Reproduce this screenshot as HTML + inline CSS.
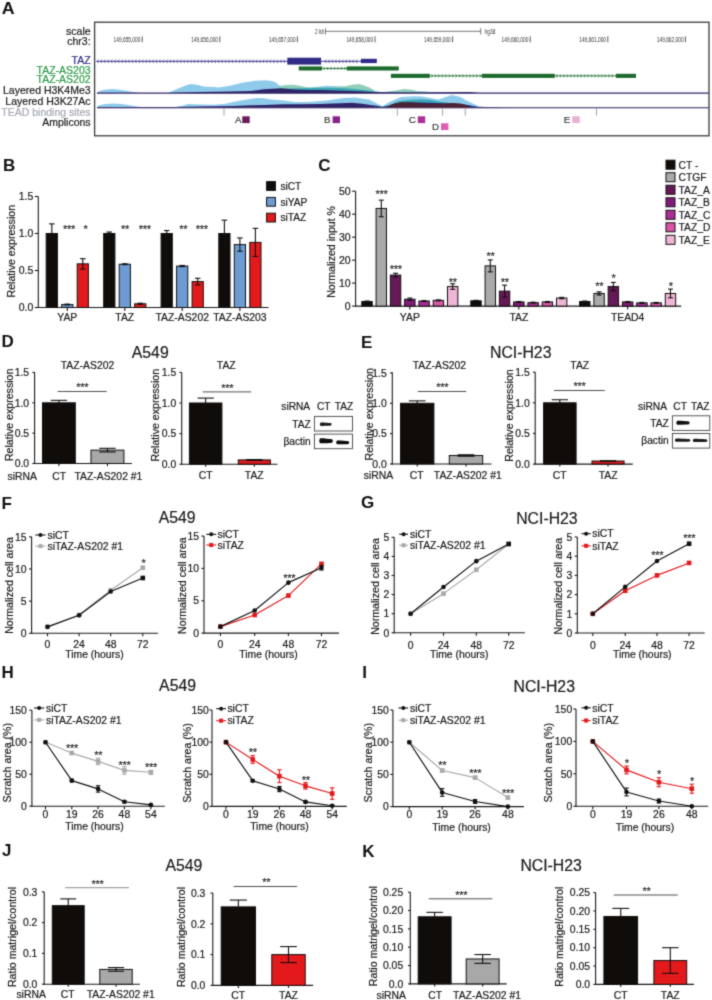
<!DOCTYPE html>
<html><head><meta charset="utf-8"><style>
html,body{margin:0;padding:0;background:#fff;}
svg{display:block;}
text{font-family:"Liberation Sans", sans-serif;}
</style></head><body>
<svg width="712" height="1000" viewBox="0 0 712 1000">
<defs><filter id="bl" x="-20%" y="-50%" width="140%" height="200%"><feGaussianBlur stdDeviation="0.45"/></filter>
<filter id="soft" x="0" y="0" width="712" height="1000" filterUnits="userSpaceOnUse" color-interpolation-filters="sRGB"><feConvolveMatrix order="3" kernelMatrix="1 3 1 3 16 3 1 3 1" edgeMode="duplicate" preserveAlpha="true"/></filter></defs>
<rect width="712" height="1000" fill="#fff"/>
<g filter="url(#soft)">
<rect width="712" height="1000" fill="#fff"/>
<text transform="translate(1.8,13.6) scale(1.05,1)" font-size="17" font-weight="bold" fill="#111">A</text>
<rect x="94.6" y="22.2" width="614.4" height="113.6" fill="none" stroke="#3a3a3a" stroke-width="1.3"/>
<text x="90.6" y="35.4" font-size="10.5" text-anchor="end" stroke="#1a1a1a" stroke-width="0.2" fill="#1a1a1a">scale</text>
<text x="90.6" y="45" font-size="10.5" text-anchor="end" stroke="#1a1a1a" stroke-width="0.2" fill="#1a1a1a">chr3:</text>
<text x="90.6" y="64.2" font-size="10.5" text-anchor="end" stroke="#2e2a85" stroke-width="0.2" fill="#2e2a85">TAZ</text>
<text x="90.6" y="73.6" font-size="10.5" text-anchor="end" stroke="#2b9a45" stroke-width="0.2" fill="#2b9a45">TAZ-AS203</text>
<text x="90.6" y="83.1" font-size="10.5" text-anchor="end" stroke="#2b9a45" stroke-width="0.2" fill="#2b9a45">TAZ-AS202</text>
<text x="90.6" y="94.2" font-size="10.5" text-anchor="end" stroke="#1a1a1a" stroke-width="0.2" fill="#1a1a1a">Layered H3K4Me3</text>
<text x="90.6" y="105.2" font-size="10.5" text-anchor="end" stroke="#1a1a1a" stroke-width="0.2" fill="#1a1a1a">Layered H3K27Ac</text>
<text x="90.6" y="116" font-size="10.5" text-anchor="end" stroke="#a4a8b2" stroke-width="0.2" fill="#a4a8b2">TEAD binding sites</text>
<text x="90.6" y="126.3" font-size="10.5" text-anchor="end" stroke="#1a1a1a" stroke-width="0.2" fill="#1a1a1a">Amplicons</text>
<line x1="142.2" y1="36.3" x2="142.2" y2="42.3" stroke="#333" stroke-width="0.8"/>
<text transform="translate(140.4,41.8) scale(0.7,1)" font-size="6.9" text-anchor="end" fill="#333">149,655,000</text>
<line x1="219.8" y1="36.3" x2="219.8" y2="42.3" stroke="#333" stroke-width="0.8"/>
<text transform="translate(218,41.8) scale(0.7,1)" font-size="6.9" text-anchor="end" fill="#333">149,656,000</text>
<line x1="297.4" y1="36.3" x2="297.4" y2="42.3" stroke="#333" stroke-width="0.8"/>
<text transform="translate(295.6,41.8) scale(0.7,1)" font-size="6.9" text-anchor="end" fill="#333">149,657,000</text>
<line x1="375" y1="36.3" x2="375" y2="42.3" stroke="#333" stroke-width="0.8"/>
<text transform="translate(373.2,41.8) scale(0.7,1)" font-size="6.9" text-anchor="end" fill="#333">149,658,000</text>
<line x1="452.6" y1="36.3" x2="452.6" y2="42.3" stroke="#333" stroke-width="0.8"/>
<text transform="translate(450.8,41.8) scale(0.7,1)" font-size="6.9" text-anchor="end" fill="#333">149,659,000</text>
<line x1="530.2" y1="36.3" x2="530.2" y2="42.3" stroke="#333" stroke-width="0.8"/>
<text transform="translate(528.4,41.8) scale(0.7,1)" font-size="6.9" text-anchor="end" fill="#333">149,660,000</text>
<line x1="607.8" y1="36.3" x2="607.8" y2="42.3" stroke="#333" stroke-width="0.8"/>
<text transform="translate(606,41.8) scale(0.7,1)" font-size="6.9" text-anchor="end" fill="#333">149,661,000</text>
<line x1="685.4" y1="36.3" x2="685.4" y2="42.3" stroke="#333" stroke-width="0.8"/>
<text transform="translate(683.6,41.8) scale(0.7,1)" font-size="6.9" text-anchor="end" fill="#333">149,662,000</text>
<line x1="325.5" y1="31.3" x2="480.7" y2="31.3" stroke="#555" stroke-width="0.8"/>
<line x1="325.5" y1="28.2" x2="325.5" y2="34.5" stroke="#555" stroke-width="0.8"/>
<line x1="480.7" y1="28.2" x2="480.7" y2="34.5" stroke="#555" stroke-width="0.8"/>
<text transform="translate(324.2,33.6) scale(0.7,1)" font-size="6.9" text-anchor="end" fill="#333">2 kb</text>
<text transform="translate(484.6,33.6) scale(0.7,1)" font-size="6.9" fill="#333">hg38</text>
<line x1="96.5" y1="61.3" x2="361" y2="61.3" stroke="#302b87" stroke-width="0.9"/>
<path d="M98.6,59.6 L97,61.3 L98.6,63.0" fill="none" stroke="#302b87" stroke-width="0.7"/>
<path d="M102.05,59.6 L100.45,61.3 L102.05,63.0" fill="none" stroke="#302b87" stroke-width="0.7"/>
<path d="M105.5,59.6 L103.9,61.3 L105.5,63.0" fill="none" stroke="#302b87" stroke-width="0.7"/>
<path d="M108.95,59.6 L107.35,61.3 L108.95,63.0" fill="none" stroke="#302b87" stroke-width="0.7"/>
<path d="M112.4,59.6 L110.8,61.3 L112.4,63.0" fill="none" stroke="#302b87" stroke-width="0.7"/>
<path d="M115.85,59.6 L114.25,61.3 L115.85,63.0" fill="none" stroke="#302b87" stroke-width="0.7"/>
<path d="M119.3,59.6 L117.7,61.3 L119.3,63.0" fill="none" stroke="#302b87" stroke-width="0.7"/>
<path d="M122.75,59.6 L121.15,61.3 L122.75,63.0" fill="none" stroke="#302b87" stroke-width="0.7"/>
<path d="M126.2,59.6 L124.6,61.3 L126.2,63.0" fill="none" stroke="#302b87" stroke-width="0.7"/>
<path d="M129.65,59.6 L128.05,61.3 L129.65,63.0" fill="none" stroke="#302b87" stroke-width="0.7"/>
<path d="M133.1,59.6 L131.5,61.3 L133.1,63.0" fill="none" stroke="#302b87" stroke-width="0.7"/>
<path d="M136.55,59.6 L134.95,61.3 L136.55,63.0" fill="none" stroke="#302b87" stroke-width="0.7"/>
<path d="M140,59.6 L138.4,61.3 L140,63.0" fill="none" stroke="#302b87" stroke-width="0.7"/>
<path d="M143.45,59.6 L141.85,61.3 L143.45,63.0" fill="none" stroke="#302b87" stroke-width="0.7"/>
<path d="M146.9,59.6 L145.3,61.3 L146.9,63.0" fill="none" stroke="#302b87" stroke-width="0.7"/>
<path d="M150.35,59.6 L148.75,61.3 L150.35,63.0" fill="none" stroke="#302b87" stroke-width="0.7"/>
<path d="M153.8,59.6 L152.2,61.3 L153.8,63.0" fill="none" stroke="#302b87" stroke-width="0.7"/>
<path d="M157.25,59.6 L155.65,61.3 L157.25,63.0" fill="none" stroke="#302b87" stroke-width="0.7"/>
<path d="M160.7,59.6 L159.1,61.3 L160.7,63.0" fill="none" stroke="#302b87" stroke-width="0.7"/>
<path d="M164.15,59.6 L162.55,61.3 L164.15,63.0" fill="none" stroke="#302b87" stroke-width="0.7"/>
<path d="M167.6,59.6 L166,61.3 L167.6,63.0" fill="none" stroke="#302b87" stroke-width="0.7"/>
<path d="M171.05,59.6 L169.45,61.3 L171.05,63.0" fill="none" stroke="#302b87" stroke-width="0.7"/>
<path d="M174.5,59.6 L172.9,61.3 L174.5,63.0" fill="none" stroke="#302b87" stroke-width="0.7"/>
<path d="M177.95,59.6 L176.35,61.3 L177.95,63.0" fill="none" stroke="#302b87" stroke-width="0.7"/>
<path d="M181.4,59.6 L179.8,61.3 L181.4,63.0" fill="none" stroke="#302b87" stroke-width="0.7"/>
<path d="M184.85,59.6 L183.25,61.3 L184.85,63.0" fill="none" stroke="#302b87" stroke-width="0.7"/>
<path d="M188.3,59.6 L186.7,61.3 L188.3,63.0" fill="none" stroke="#302b87" stroke-width="0.7"/>
<path d="M191.75,59.6 L190.15,61.3 L191.75,63.0" fill="none" stroke="#302b87" stroke-width="0.7"/>
<path d="M195.2,59.6 L193.6,61.3 L195.2,63.0" fill="none" stroke="#302b87" stroke-width="0.7"/>
<path d="M198.65,59.6 L197.05,61.3 L198.65,63.0" fill="none" stroke="#302b87" stroke-width="0.7"/>
<path d="M202.1,59.6 L200.5,61.3 L202.1,63.0" fill="none" stroke="#302b87" stroke-width="0.7"/>
<path d="M205.55,59.6 L203.95,61.3 L205.55,63.0" fill="none" stroke="#302b87" stroke-width="0.7"/>
<path d="M209,59.6 L207.4,61.3 L209,63.0" fill="none" stroke="#302b87" stroke-width="0.7"/>
<path d="M212.45,59.6 L210.85,61.3 L212.45,63.0" fill="none" stroke="#302b87" stroke-width="0.7"/>
<path d="M215.9,59.6 L214.3,61.3 L215.9,63.0" fill="none" stroke="#302b87" stroke-width="0.7"/>
<path d="M219.35,59.6 L217.75,61.3 L219.35,63.0" fill="none" stroke="#302b87" stroke-width="0.7"/>
<path d="M222.8,59.6 L221.2,61.3 L222.8,63.0" fill="none" stroke="#302b87" stroke-width="0.7"/>
<path d="M226.25,59.6 L224.65,61.3 L226.25,63.0" fill="none" stroke="#302b87" stroke-width="0.7"/>
<path d="M229.7,59.6 L228.1,61.3 L229.7,63.0" fill="none" stroke="#302b87" stroke-width="0.7"/>
<path d="M233.15,59.6 L231.55,61.3 L233.15,63.0" fill="none" stroke="#302b87" stroke-width="0.7"/>
<path d="M236.6,59.6 L235,61.3 L236.6,63.0" fill="none" stroke="#302b87" stroke-width="0.7"/>
<path d="M240.05,59.6 L238.45,61.3 L240.05,63.0" fill="none" stroke="#302b87" stroke-width="0.7"/>
<path d="M243.5,59.6 L241.9,61.3 L243.5,63.0" fill="none" stroke="#302b87" stroke-width="0.7"/>
<path d="M246.95,59.6 L245.35,61.3 L246.95,63.0" fill="none" stroke="#302b87" stroke-width="0.7"/>
<path d="M250.4,59.6 L248.8,61.3 L250.4,63.0" fill="none" stroke="#302b87" stroke-width="0.7"/>
<path d="M253.85,59.6 L252.25,61.3 L253.85,63.0" fill="none" stroke="#302b87" stroke-width="0.7"/>
<path d="M257.3,59.6 L255.7,61.3 L257.3,63.0" fill="none" stroke="#302b87" stroke-width="0.7"/>
<path d="M260.75,59.6 L259.15,61.3 L260.75,63.0" fill="none" stroke="#302b87" stroke-width="0.7"/>
<path d="M264.2,59.6 L262.6,61.3 L264.2,63.0" fill="none" stroke="#302b87" stroke-width="0.7"/>
<path d="M267.65,59.6 L266.05,61.3 L267.65,63.0" fill="none" stroke="#302b87" stroke-width="0.7"/>
<path d="M271.1,59.6 L269.5,61.3 L271.1,63.0" fill="none" stroke="#302b87" stroke-width="0.7"/>
<path d="M274.55,59.6 L272.95,61.3 L274.55,63.0" fill="none" stroke="#302b87" stroke-width="0.7"/>
<path d="M278,59.6 L276.4,61.3 L278,63.0" fill="none" stroke="#302b87" stroke-width="0.7"/>
<path d="M281.45,59.6 L279.85,61.3 L281.45,63.0" fill="none" stroke="#302b87" stroke-width="0.7"/>
<path d="M284.9,59.6 L283.3,61.3 L284.9,63.0" fill="none" stroke="#302b87" stroke-width="0.7"/>
<path d="M326.3,59.6 L324.7,61.3 L326.3,63.0" fill="none" stroke="#302b87" stroke-width="0.7"/>
<path d="M329.75,59.6 L328.15,61.3 L329.75,63.0" fill="none" stroke="#302b87" stroke-width="0.7"/>
<path d="M333.2,59.6 L331.6,61.3 L333.2,63.0" fill="none" stroke="#302b87" stroke-width="0.7"/>
<path d="M336.65,59.6 L335.05,61.3 L336.65,63.0" fill="none" stroke="#302b87" stroke-width="0.7"/>
<path d="M340.1,59.6 L338.5,61.3 L340.1,63.0" fill="none" stroke="#302b87" stroke-width="0.7"/>
<path d="M343.55,59.6 L341.95,61.3 L343.55,63.0" fill="none" stroke="#302b87" stroke-width="0.7"/>
<path d="M347,59.6 L345.4,61.3 L347,63.0" fill="none" stroke="#302b87" stroke-width="0.7"/>
<path d="M350.45,59.6 L348.85,61.3 L350.45,63.0" fill="none" stroke="#302b87" stroke-width="0.7"/>
<path d="M353.9,59.6 L352.3,61.3 L353.9,63.0" fill="none" stroke="#302b87" stroke-width="0.7"/>
<path d="M357.35,59.6 L355.75,61.3 L357.35,63.0" fill="none" stroke="#302b87" stroke-width="0.7"/>
<rect x="287.3" y="57.7" width="33.8" height="6.9" fill="#302b87"/>
<rect x="360.9" y="58.8" width="15.9" height="4.3" fill="#302b87"/>
<line x1="298.8" y1="68.45" x2="398.7" y2="68.45" stroke="#1c6a2d" stroke-width="0.9"/>
<path d="M323.5,66.95 L325.1,68.45 L323.5,69.95" fill="none" stroke="#1c6a2d" stroke-width="0.7"/>
<path d="M326.95,66.95 L328.55,68.45 L326.95,69.95" fill="none" stroke="#1c6a2d" stroke-width="0.7"/>
<path d="M330.4,66.95 L332,68.45 L330.4,69.95" fill="none" stroke="#1c6a2d" stroke-width="0.7"/>
<path d="M333.85,66.95 L335.45,68.45 L333.85,69.95" fill="none" stroke="#1c6a2d" stroke-width="0.7"/>
<path d="M337.3,66.95 L338.9,68.45 L337.3,69.95" fill="none" stroke="#1c6a2d" stroke-width="0.7"/>
<path d="M340.75,66.95 L342.35,68.45 L340.75,69.95" fill="none" stroke="#1c6a2d" stroke-width="0.7"/>
<path d="M344.2,66.95 L345.8,68.45 L344.2,69.95" fill="none" stroke="#1c6a2d" stroke-width="0.7"/>
<rect x="298.8" y="66.4" width="23.2" height="4.1" fill="#1c6a2d"/>
<rect x="346.7" y="66.4" width="52" height="4.1" fill="#1c6a2d"/>
<line x1="390.9" y1="75.85" x2="636" y2="75.85" stroke="#1c6a2d" stroke-width="0.9"/>
<path d="M431.3,74.35 L432.9,75.85 L431.3,77.35" fill="none" stroke="#1c6a2d" stroke-width="0.7"/>
<path d="M434.75,74.35 L436.35,75.85 L434.75,77.35" fill="none" stroke="#1c6a2d" stroke-width="0.7"/>
<path d="M438.2,74.35 L439.8,75.85 L438.2,77.35" fill="none" stroke="#1c6a2d" stroke-width="0.7"/>
<path d="M441.65,74.35 L443.25,75.85 L441.65,77.35" fill="none" stroke="#1c6a2d" stroke-width="0.7"/>
<path d="M445.1,74.35 L446.7,75.85 L445.1,77.35" fill="none" stroke="#1c6a2d" stroke-width="0.7"/>
<path d="M448.55,74.35 L450.15,75.85 L448.55,77.35" fill="none" stroke="#1c6a2d" stroke-width="0.7"/>
<path d="M452,74.35 L453.6,75.85 L452,77.35" fill="none" stroke="#1c6a2d" stroke-width="0.7"/>
<path d="M455.45,74.35 L457.05,75.85 L455.45,77.35" fill="none" stroke="#1c6a2d" stroke-width="0.7"/>
<path d="M458.9,74.35 L460.5,75.85 L458.9,77.35" fill="none" stroke="#1c6a2d" stroke-width="0.7"/>
<path d="M462.35,74.35 L463.95,75.85 L462.35,77.35" fill="none" stroke="#1c6a2d" stroke-width="0.7"/>
<path d="M465.8,74.35 L467.4,75.85 L465.8,77.35" fill="none" stroke="#1c6a2d" stroke-width="0.7"/>
<path d="M469.25,74.35 L470.85,75.85 L469.25,77.35" fill="none" stroke="#1c6a2d" stroke-width="0.7"/>
<path d="M472.7,74.35 L474.3,75.85 L472.7,77.35" fill="none" stroke="#1c6a2d" stroke-width="0.7"/>
<path d="M476.15,74.35 L477.75,75.85 L476.15,77.35" fill="none" stroke="#1c6a2d" stroke-width="0.7"/>
<path d="M479.6,74.35 L481.2,75.85 L479.6,77.35" fill="none" stroke="#1c6a2d" stroke-width="0.7"/>
<path d="M556.3,74.35 L557.9,75.85 L556.3,77.35" fill="none" stroke="#1c6a2d" stroke-width="0.7"/>
<path d="M559.75,74.35 L561.35,75.85 L559.75,77.35" fill="none" stroke="#1c6a2d" stroke-width="0.7"/>
<path d="M563.2,74.35 L564.8,75.85 L563.2,77.35" fill="none" stroke="#1c6a2d" stroke-width="0.7"/>
<path d="M566.65,74.35 L568.25,75.85 L566.65,77.35" fill="none" stroke="#1c6a2d" stroke-width="0.7"/>
<path d="M570.1,74.35 L571.7,75.85 L570.1,77.35" fill="none" stroke="#1c6a2d" stroke-width="0.7"/>
<path d="M573.55,74.35 L575.15,75.85 L573.55,77.35" fill="none" stroke="#1c6a2d" stroke-width="0.7"/>
<path d="M577,74.35 L578.6,75.85 L577,77.35" fill="none" stroke="#1c6a2d" stroke-width="0.7"/>
<path d="M580.45,74.35 L582.05,75.85 L580.45,77.35" fill="none" stroke="#1c6a2d" stroke-width="0.7"/>
<path d="M583.9,74.35 L585.5,75.85 L583.9,77.35" fill="none" stroke="#1c6a2d" stroke-width="0.7"/>
<path d="M587.35,74.35 L588.95,75.85 L587.35,77.35" fill="none" stroke="#1c6a2d" stroke-width="0.7"/>
<path d="M590.8,74.35 L592.4,75.85 L590.8,77.35" fill="none" stroke="#1c6a2d" stroke-width="0.7"/>
<path d="M594.25,74.35 L595.85,75.85 L594.25,77.35" fill="none" stroke="#1c6a2d" stroke-width="0.7"/>
<path d="M597.7,74.35 L599.3,75.85 L597.7,77.35" fill="none" stroke="#1c6a2d" stroke-width="0.7"/>
<path d="M601.15,74.35 L602.75,75.85 L601.15,77.35" fill="none" stroke="#1c6a2d" stroke-width="0.7"/>
<path d="M604.6,74.35 L606.2,75.85 L604.6,77.35" fill="none" stroke="#1c6a2d" stroke-width="0.7"/>
<path d="M608.05,74.35 L609.65,75.85 L608.05,77.35" fill="none" stroke="#1c6a2d" stroke-width="0.7"/>
<path d="M611.5,74.35 L613.1,75.85 L611.5,77.35" fill="none" stroke="#1c6a2d" stroke-width="0.7"/>
<rect x="390.9" y="73.8" width="38.9" height="4.1" fill="#1c6a2d"/>
<rect x="481.8" y="73.8" width="73" height="4.1" fill="#1c6a2d"/>
<rect x="615.8" y="73.8" width="20.2" height="4.1" fill="#1c6a2d"/>
<path d="M97,93.3 L97,92.5 L100,90.8 L106,89.5 L112.5,89 L120,89.7 L128,91.1 L135,92.3 L140,92.9 L168,92.9 L172,91.3 L180,87.8 L186,85.3 L191,84.1 L197,84.7 L203.6,86.5 L214,87 L218.5,87.5 L230,85.8 L242,82.7 L255.6,80.7 L265.7,80.2 L272,80.9 L276,82.4 L279,85.3 L285,86.3 L300,87.3 L310,87.5 L326.9,85.8 L343.7,86.4 L359,86.8 L365,87.5 L369,87.5 L375.7,91.2 L382.5,92.5 L394,90.8 L404,89.7 L410,90.1 L418,91.2 L430,92 L450,92.4 L470,92.7 L470,93.3 Z" fill="#8ecbeb"/>
<path d="M279,93.3 L279,86.8 L285,85.1 L292.7,84.8 L300,85.7 L308,87.5 L320,87.5 L330,87.8 L345,86.3 L352,84.8 L358.9,84.1 L365,85.8 L369,87.5 L375.7,91.2 L382,92.5 L394,91.1 L404,89.1 L412,89.8 L418,91.2 L430,92 L430,93.3 Z" fill="#8fcfbb"/>
<path d="M279,93.3 L279,88.8 L300,88.3 L310,87.9 L326.9,87.7 L340,88 L348.8,88.6 L360,89.5 L370,90.8 L376,92.1 L376,93.3 Z" fill="#3aa6b5"/>
<path d="M97,93.5 L97,92.5 L168,92.5 L200,91.9 L230,91.4 L250.6,91 L264,89.3 L281,88.3 L294,89.5 L310,89.9 L320,90 L343.7,90.7 L360,91.3 L374,92.1 L400,92.2 L420,92.2 L470,91.9 L480,92.6 L709,92.6 L709,93.5 Z" fill="#2f2468"/>
<line x1="97" y1="93.5" x2="708.6" y2="93.5" stroke="#5d4f86" stroke-width="0.8"/>
<path d="M97,107.7 L97,106.5 L100,105.1 L106,103.9 L113.4,103.4 L122,103.9 L130,105.2 L137,106.4 L141,107.1 L176,107.1 L182,105.7 L188.4,104.1 L200,104.5 L214,104.8 L225.3,103.7 L240.5,100.4 L257.3,97.9 L264,98.2 L270.8,99.6 L284.3,100.4 L294.4,102.1 L307.9,102.1 L320,101 L326.9,100.4 L343.7,97.9 L355.5,97.6 L363,98.7 L369,99.6 L377.4,103.8 L382.5,106.3 L390.9,101.3 L401,97.1 L414.5,96.2 L422,96.4 L430,97.9 L438.5,99.6 L445,97.2 L452,94.9 L460.5,97.1 L465,99.7 L470.6,102.6 L479,106.3 L487.4,107.3 L500,107.5 L500,107.7 Z" fill="#8ecbeb"/>
<path d="M380,107.7 L380,107.1 L390.9,104.7 L397.6,101.2 L405,100.2 L414,99.5 L422,99.3 L430,99.7 L440,101.7 L450,103.1 L460,104.1 L470,105.3 L478,106.9 L478,107.7 Z" fill="#3aa6b5"/>
<path d="M97,107.9 L97,106.9 L176,107 L200,106.6 L233.7,106.1 L250,105.3 L264,105 L284.3,104.3 L300,104.3 L320,104 L340,103.3 L352,102.8 L362,103.7 L370.7,104.9 L378,106.1 L382.5,106.9 L388,105.9 L392,104.3 L398,102.9 L405,102.3 L420,102.5 L435,103.1 L450,103.7 L465,104.6 L470.6,105.7 L478,107.1 L709,107.3 L709,107.9 Z" fill="#2f2468"/>
<path d="M388,107.9 L388,106.4 L393,103.9 L401,102.3 L411,102.3 L420,103.3 L430,104.3 L440,103.7 L452,102.9 L460.5,103.5 L466,105.3 L470,106.9 L470,107.9 Z" fill="#4a2236"/>
<line x1="97" y1="108" x2="708.6" y2="108" stroke="#6b5a8a" stroke-width="0.8"/>
<line x1="224" y1="108.6" x2="224" y2="115.6" stroke="#8a8a8a" stroke-width="0.8"/>
<line x1="397.3" y1="108.6" x2="397.3" y2="115.6" stroke="#8a8a8a" stroke-width="0.8"/>
<line x1="442.6" y1="108.6" x2="442.6" y2="115.6" stroke="#8a8a8a" stroke-width="0.8"/>
<line x1="465.2" y1="108.6" x2="465.2" y2="115.6" stroke="#8a8a8a" stroke-width="0.8"/>
<line x1="596.5" y1="108.6" x2="596.5" y2="115.6" stroke="#8a8a8a" stroke-width="0.8"/>
<rect x="242.3" y="116.3" width="7.4" height="6.8" fill="#6a1a59"/>
<text x="234.9" y="122.6" font-size="9.8" stroke="#3a3a3a" stroke-width="0.2" fill="#3a3a3a">A</text>
<rect x="332.6" y="116.3" width="7.4" height="6.8" fill="#85228a"/>
<text x="324" y="122.6" font-size="9.8" stroke="#3a3a3a" stroke-width="0.2" fill="#3a3a3a">B</text>
<rect x="417.8" y="116.3" width="7.4" height="6.8" fill="#ad2f98"/>
<text x="408.7" y="122.6" font-size="9.8" stroke="#3a3a3a" stroke-width="0.2" fill="#3a3a3a">C</text>
<rect x="441" y="123.3" width="7.4" height="6.8" fill="#de5fb0"/>
<text x="431.9" y="129.6" font-size="9.8" stroke="#3a3a3a" stroke-width="0.2" fill="#3a3a3a">D</text>
<rect x="572.3" y="116.3" width="7.4" height="6.8" fill="#ecadd2"/>
<text x="563.7" y="122.6" font-size="9.8" stroke="#3a3a3a" stroke-width="0.2" fill="#3a3a3a">E</text>
<text x="3" y="170.8" font-size="17" font-weight="bold" fill="#111">B</text>
<line x1="38.3" y1="196.6" x2="38.3" y2="308" stroke="#1a1a1a" stroke-width="1.1"/>
<line x1="34.8" y1="307.5" x2="38.3" y2="307.5" stroke="#1a1a1a" stroke-width="1.1"/>
<text x="33.3" y="311.28" font-size="10.5" text-anchor="end" stroke="#1a1a1a" stroke-width="0.2" fill="#1a1a1a">0.0</text>
<line x1="34.8" y1="270.5" x2="38.3" y2="270.5" stroke="#1a1a1a" stroke-width="1.1"/>
<text x="33.3" y="274.28" font-size="10.5" text-anchor="end" stroke="#1a1a1a" stroke-width="0.2" fill="#1a1a1a">0.5</text>
<line x1="34.8" y1="233.5" x2="38.3" y2="233.5" stroke="#1a1a1a" stroke-width="1.1"/>
<text x="33.3" y="237.28" font-size="10.5" text-anchor="end" stroke="#1a1a1a" stroke-width="0.2" fill="#1a1a1a">1.0</text>
<line x1="34.8" y1="196.5" x2="38.3" y2="196.5" stroke="#1a1a1a" stroke-width="1.1"/>
<text x="33.3" y="200.28" font-size="10.5" text-anchor="end" stroke="#1a1a1a" stroke-width="0.2" fill="#1a1a1a">1.5</text>
<line x1="37.8" y1="307.5" x2="268.5" y2="307.5" stroke="#1a1a1a" stroke-width="1.1"/>
<line x1="67.3" y1="307.5" x2="67.3" y2="311" stroke="#1a1a1a" stroke-width="1.1"/>
<line x1="124.8" y1="307.5" x2="124.8" y2="311" stroke="#1a1a1a" stroke-width="1.1"/>
<line x1="182.2" y1="307.5" x2="182.2" y2="311" stroke="#1a1a1a" stroke-width="1.1"/>
<line x1="239.9" y1="307.5" x2="239.9" y2="311" stroke="#1a1a1a" stroke-width="1.1"/>
<rect x="46.2" y="233.5" width="11.2" height="74" fill="#100c0a" stroke="#111" stroke-width="1"/>
<line x1="51.8" y1="223.88" x2="51.8" y2="243.12" stroke="#111" stroke-width="1.1"/>
<line x1="49.05" y1="223.88" x2="54.55" y2="223.88" stroke="#111" stroke-width="1.1"/>
<line x1="49.05" y1="243.12" x2="54.55" y2="243.12" stroke="#111" stroke-width="1.1"/>
<rect x="61.7" y="304.54" width="11.2" height="2.96" fill="#6d9bd3" stroke="#111" stroke-width="1"/>
<line x1="67.3" y1="304.1" x2="67.3" y2="304.98" stroke="#111" stroke-width="1.1"/>
<line x1="64.55" y1="304.1" x2="70.05" y2="304.1" stroke="#111" stroke-width="1.1"/>
<line x1="64.55" y1="304.98" x2="70.05" y2="304.98" stroke="#111" stroke-width="1.1"/>
<rect x="77.2" y="263.84" width="11.2" height="43.66" fill="#e3191c" stroke="#111" stroke-width="1"/>
<line x1="82.8" y1="258.66" x2="82.8" y2="269.02" stroke="#111" stroke-width="1.1"/>
<line x1="80.05" y1="258.66" x2="85.55" y2="258.66" stroke="#111" stroke-width="1.1"/>
<line x1="80.05" y1="269.02" x2="85.55" y2="269.02" stroke="#111" stroke-width="1.1"/>
<rect x="103.7" y="233.5" width="11.2" height="74" fill="#100c0a" stroke="#111" stroke-width="1"/>
<line x1="109.3" y1="232.02" x2="109.3" y2="234.98" stroke="#111" stroke-width="1.1"/>
<line x1="106.55" y1="232.02" x2="112.05" y2="232.02" stroke="#111" stroke-width="1.1"/>
<line x1="106.55" y1="234.98" x2="112.05" y2="234.98" stroke="#111" stroke-width="1.1"/>
<rect x="119.2" y="264.21" width="11.2" height="43.29" fill="#6d9bd3" stroke="#111" stroke-width="1"/>
<line x1="124.8" y1="263.77" x2="124.8" y2="264.65" stroke="#111" stroke-width="1.1"/>
<line x1="122.05" y1="263.77" x2="127.55" y2="263.77" stroke="#111" stroke-width="1.1"/>
<line x1="122.05" y1="264.65" x2="127.55" y2="264.65" stroke="#111" stroke-width="1.1"/>
<rect x="134.7" y="303.8" width="11.2" height="3.7" fill="#e3191c" stroke="#111" stroke-width="1"/>
<line x1="140.3" y1="303.21" x2="140.3" y2="304.39" stroke="#111" stroke-width="1.1"/>
<line x1="137.55" y1="303.21" x2="143.05" y2="303.21" stroke="#111" stroke-width="1.1"/>
<line x1="137.55" y1="304.39" x2="143.05" y2="304.39" stroke="#111" stroke-width="1.1"/>
<rect x="161.1" y="233.5" width="11.2" height="74" fill="#100c0a" stroke="#111" stroke-width="1"/>
<line x1="166.7" y1="230.54" x2="166.7" y2="236.46" stroke="#111" stroke-width="1.1"/>
<line x1="163.95" y1="230.54" x2="169.45" y2="230.54" stroke="#111" stroke-width="1.1"/>
<line x1="163.95" y1="236.46" x2="169.45" y2="236.46" stroke="#111" stroke-width="1.1"/>
<rect x="176.6" y="266.06" width="11.2" height="41.44" fill="#6d9bd3" stroke="#111" stroke-width="1"/>
<line x1="182.2" y1="265.47" x2="182.2" y2="266.65" stroke="#111" stroke-width="1.1"/>
<line x1="179.45" y1="265.47" x2="184.95" y2="265.47" stroke="#111" stroke-width="1.1"/>
<line x1="179.45" y1="266.65" x2="184.95" y2="266.65" stroke="#111" stroke-width="1.1"/>
<rect x="192.1" y="281.6" width="11.2" height="25.9" fill="#e3191c" stroke="#111" stroke-width="1"/>
<line x1="197.7" y1="278.27" x2="197.7" y2="284.93" stroke="#111" stroke-width="1.1"/>
<line x1="194.95" y1="278.27" x2="200.45" y2="278.27" stroke="#111" stroke-width="1.1"/>
<line x1="194.95" y1="284.93" x2="200.45" y2="284.93" stroke="#111" stroke-width="1.1"/>
<rect x="218.8" y="233.5" width="11.2" height="74" fill="#100c0a" stroke="#111" stroke-width="1"/>
<line x1="224.4" y1="220.18" x2="224.4" y2="246.82" stroke="#111" stroke-width="1.1"/>
<line x1="221.65" y1="220.18" x2="227.15" y2="220.18" stroke="#111" stroke-width="1.1"/>
<line x1="221.65" y1="246.82" x2="227.15" y2="246.82" stroke="#111" stroke-width="1.1"/>
<rect x="234.3" y="244.6" width="11.2" height="62.9" fill="#6d9bd3" stroke="#111" stroke-width="1"/>
<line x1="239.9" y1="237.94" x2="239.9" y2="251.26" stroke="#111" stroke-width="1.1"/>
<line x1="237.15" y1="237.94" x2="242.65" y2="237.94" stroke="#111" stroke-width="1.1"/>
<line x1="237.15" y1="251.26" x2="242.65" y2="251.26" stroke="#111" stroke-width="1.1"/>
<rect x="249.8" y="242.38" width="11.2" height="65.12" fill="#e3191c" stroke="#111" stroke-width="1"/>
<line x1="255.4" y1="228.32" x2="255.4" y2="256.44" stroke="#111" stroke-width="1.1"/>
<line x1="252.65" y1="228.32" x2="258.15" y2="228.32" stroke="#111" stroke-width="1.1"/>
<line x1="252.65" y1="256.44" x2="258.15" y2="256.44" stroke="#111" stroke-width="1.1"/>
<text x="68.95" y="233.47" font-size="11" text-anchor="middle" letter-spacing="-0.3" stroke="#2a2a2a" stroke-width="0.2" fill="#2a2a2a">***</text>
<text x="85.55" y="233.47" font-size="11" text-anchor="middle" letter-spacing="-0.3" stroke="#2a2a2a" stroke-width="0.2" fill="#2a2a2a">*</text>
<text x="125.05" y="233.47" font-size="11" text-anchor="middle" letter-spacing="-0.3" stroke="#2a2a2a" stroke-width="0.2" fill="#2a2a2a">**</text>
<text x="144.65" y="233.47" font-size="11" text-anchor="middle" letter-spacing="-0.3" stroke="#2a2a2a" stroke-width="0.2" fill="#2a2a2a">***</text>
<text x="183.25" y="233.47" font-size="11" text-anchor="middle" letter-spacing="-0.3" stroke="#2a2a2a" stroke-width="0.2" fill="#2a2a2a">**</text>
<text x="201.85" y="233.47" font-size="11" text-anchor="middle" letter-spacing="-0.3" stroke="#2a2a2a" stroke-width="0.2" fill="#2a2a2a">***</text>
<text x="67.3" y="321" font-size="10.4" text-anchor="middle" stroke="#1a1a1a" stroke-width="0.2" fill="#1a1a1a">YAP</text>
<text x="124.8" y="321" font-size="10.4" text-anchor="middle" stroke="#1a1a1a" stroke-width="0.2" fill="#1a1a1a">TAZ</text>
<text x="182.2" y="321" font-size="10.4" text-anchor="middle" stroke="#1a1a1a" stroke-width="0.2" fill="#1a1a1a">TAZ-AS202</text>
<text x="239.9" y="321" font-size="10.4" text-anchor="middle" stroke="#1a1a1a" stroke-width="0.2" fill="#1a1a1a">TAZ-AS203</text>
<text transform="translate(14.92,251.2) rotate(-90)" font-size="10.6" text-anchor="middle" stroke="#1a1a1a" stroke-width="0.2" fill="#1a1a1a">Relative expression</text>
<rect x="266.6" y="181.6" width="8.8" height="8.8" fill="#100c0a" stroke="#111" stroke-width="1"/>
<text x="280.4" y="189.8" font-size="10.2" stroke="#1a1a1a" stroke-width="0.2" fill="#1a1a1a">siCT</text>
<rect x="266.6" y="197.4" width="8.8" height="8.8" fill="#6d9bd3" stroke="#111" stroke-width="1"/>
<text x="280.4" y="205.6" font-size="10.2" stroke="#1a1a1a" stroke-width="0.2" fill="#1a1a1a">siYAP</text>
<rect x="266.6" y="213.2" width="8.8" height="8.8" fill="#e3191c" stroke="#111" stroke-width="1"/>
<text x="280.4" y="221.4" font-size="10.2" stroke="#1a1a1a" stroke-width="0.2" fill="#1a1a1a">siTAZ</text>
<text x="318.2" y="170.5" font-size="17" font-weight="bold" fill="#111">C</text>
<line x1="355.6" y1="191.2" x2="355.6" y2="306.6" stroke="#1a1a1a" stroke-width="1.1"/>
<line x1="352.1" y1="306.1" x2="355.6" y2="306.1" stroke="#1a1a1a" stroke-width="1.1"/>
<text x="350.6" y="309.88" font-size="10.5" text-anchor="end" stroke="#1a1a1a" stroke-width="0.2" fill="#1a1a1a">0</text>
<line x1="352.1" y1="283.12" x2="355.6" y2="283.12" stroke="#1a1a1a" stroke-width="1.1"/>
<text x="350.6" y="286.9" font-size="10.5" text-anchor="end" stroke="#1a1a1a" stroke-width="0.2" fill="#1a1a1a">10</text>
<line x1="352.1" y1="260.14" x2="355.6" y2="260.14" stroke="#1a1a1a" stroke-width="1.1"/>
<text x="350.6" y="263.92" font-size="10.5" text-anchor="end" stroke="#1a1a1a" stroke-width="0.2" fill="#1a1a1a">20</text>
<line x1="352.1" y1="237.16" x2="355.6" y2="237.16" stroke="#1a1a1a" stroke-width="1.1"/>
<text x="350.6" y="240.94" font-size="10.5" text-anchor="end" stroke="#1a1a1a" stroke-width="0.2" fill="#1a1a1a">30</text>
<line x1="352.1" y1="214.18" x2="355.6" y2="214.18" stroke="#1a1a1a" stroke-width="1.1"/>
<text x="350.6" y="217.96" font-size="10.5" text-anchor="end" stroke="#1a1a1a" stroke-width="0.2" fill="#1a1a1a">40</text>
<line x1="352.1" y1="191.2" x2="355.6" y2="191.2" stroke="#1a1a1a" stroke-width="1.1"/>
<text x="350.6" y="194.98" font-size="10.5" text-anchor="end" stroke="#1a1a1a" stroke-width="0.2" fill="#1a1a1a">50</text>
<line x1="355.1" y1="306.1" x2="681.2" y2="306.1" stroke="#1a1a1a" stroke-width="1.1"/>
<line x1="409.84" y1="306.1" x2="409.84" y2="309.6" stroke="#1a1a1a" stroke-width="1.1"/>
<line x1="518.84" y1="306.1" x2="518.84" y2="309.6" stroke="#1a1a1a" stroke-width="1.1"/>
<line x1="627.64" y1="306.1" x2="627.64" y2="309.6" stroke="#1a1a1a" stroke-width="1.1"/>
<rect x="361.8" y="301.5" width="10.4" height="4.6" fill="#100c0a" stroke="#111" stroke-width="1"/>
<line x1="367" y1="301.04" x2="367" y2="301.96" stroke="#111" stroke-width="1.1"/>
<line x1="364.5" y1="301.04" x2="369.5" y2="301.04" stroke="#111" stroke-width="1.1"/>
<line x1="364.5" y1="301.96" x2="369.5" y2="301.96" stroke="#111" stroke-width="1.1"/>
<rect x="376.08" y="208.44" width="10.4" height="97.67" fill="#aaaaaa" stroke="#111" stroke-width="1"/>
<line x1="381.28" y1="200.16" x2="381.28" y2="216.71" stroke="#111" stroke-width="1.1"/>
<line x1="378.78" y1="200.16" x2="383.78" y2="200.16" stroke="#111" stroke-width="1.1"/>
<line x1="378.78" y1="216.71" x2="383.78" y2="216.71" stroke="#111" stroke-width="1.1"/>
<rect x="390.36" y="275.08" width="10.4" height="31.02" fill="#671856" stroke="#111" stroke-width="1"/>
<line x1="395.56" y1="273.24" x2="395.56" y2="276.92" stroke="#111" stroke-width="1.1"/>
<line x1="393.06" y1="273.24" x2="398.06" y2="273.24" stroke="#111" stroke-width="1.1"/>
<line x1="393.06" y1="276.92" x2="398.06" y2="276.92" stroke="#111" stroke-width="1.1"/>
<rect x="404.64" y="299.21" width="10.4" height="6.89" fill="#84197c" stroke="#111" stroke-width="1"/>
<line x1="409.84" y1="298.06" x2="409.84" y2="300.36" stroke="#111" stroke-width="1.1"/>
<line x1="407.34" y1="298.06" x2="412.34" y2="298.06" stroke="#111" stroke-width="1.1"/>
<line x1="407.34" y1="300.36" x2="412.34" y2="300.36" stroke="#111" stroke-width="1.1"/>
<rect x="418.92" y="301.04" width="10.4" height="5.06" fill="#ab2d97" stroke="#111" stroke-width="1"/>
<line x1="424.12" y1="300.58" x2="424.12" y2="301.5" stroke="#111" stroke-width="1.1"/>
<line x1="421.62" y1="300.58" x2="426.62" y2="300.58" stroke="#111" stroke-width="1.1"/>
<line x1="421.62" y1="301.5" x2="426.62" y2="301.5" stroke="#111" stroke-width="1.1"/>
<rect x="433.2" y="300.36" width="10.4" height="5.75" fill="#d955a7" stroke="#111" stroke-width="1"/>
<line x1="438.4" y1="299.9" x2="438.4" y2="300.81" stroke="#111" stroke-width="1.1"/>
<line x1="435.9" y1="299.9" x2="440.9" y2="299.9" stroke="#111" stroke-width="1.1"/>
<line x1="435.9" y1="300.81" x2="440.9" y2="300.81" stroke="#111" stroke-width="1.1"/>
<rect x="447.48" y="286.57" width="10.4" height="19.53" fill="#efb6d6" stroke="#111" stroke-width="1"/>
<line x1="452.68" y1="283.81" x2="452.68" y2="289.32" stroke="#111" stroke-width="1.1"/>
<line x1="450.18" y1="283.81" x2="455.18" y2="283.81" stroke="#111" stroke-width="1.1"/>
<line x1="450.18" y1="289.32" x2="455.18" y2="289.32" stroke="#111" stroke-width="1.1"/>
<rect x="470.8" y="300.81" width="10.4" height="5.29" fill="#100c0a" stroke="#111" stroke-width="1"/>
<line x1="476" y1="300.36" x2="476" y2="301.27" stroke="#111" stroke-width="1.1"/>
<line x1="473.5" y1="300.36" x2="478.5" y2="300.36" stroke="#111" stroke-width="1.1"/>
<line x1="473.5" y1="301.27" x2="478.5" y2="301.27" stroke="#111" stroke-width="1.1"/>
<rect x="485.08" y="265.88" width="10.4" height="40.22" fill="#aaaaaa" stroke="#111" stroke-width="1"/>
<line x1="490.28" y1="259.91" x2="490.28" y2="271.86" stroke="#111" stroke-width="1.1"/>
<line x1="487.78" y1="259.91" x2="492.78" y2="259.91" stroke="#111" stroke-width="1.1"/>
<line x1="487.78" y1="271.86" x2="492.78" y2="271.86" stroke="#111" stroke-width="1.1"/>
<rect x="499.36" y="291.16" width="10.4" height="14.94" fill="#671856" stroke="#111" stroke-width="1"/>
<line x1="504.56" y1="285.19" x2="504.56" y2="297.14" stroke="#111" stroke-width="1.1"/>
<line x1="502.06" y1="285.19" x2="507.06" y2="285.19" stroke="#111" stroke-width="1.1"/>
<line x1="502.06" y1="297.14" x2="507.06" y2="297.14" stroke="#111" stroke-width="1.1"/>
<rect x="513.64" y="301.96" width="10.4" height="4.14" fill="#84197c" stroke="#111" stroke-width="1"/>
<line x1="518.84" y1="301.5" x2="518.84" y2="302.42" stroke="#111" stroke-width="1.1"/>
<line x1="516.34" y1="301.5" x2="521.34" y2="301.5" stroke="#111" stroke-width="1.1"/>
<line x1="516.34" y1="302.42" x2="521.34" y2="302.42" stroke="#111" stroke-width="1.1"/>
<rect x="527.92" y="302.65" width="10.4" height="3.45" fill="#ab2d97" stroke="#111" stroke-width="1"/>
<line x1="533.12" y1="302.19" x2="533.12" y2="303.11" stroke="#111" stroke-width="1.1"/>
<line x1="530.62" y1="302.19" x2="535.62" y2="302.19" stroke="#111" stroke-width="1.1"/>
<line x1="530.62" y1="303.11" x2="535.62" y2="303.11" stroke="#111" stroke-width="1.1"/>
<rect x="542.2" y="301.96" width="10.4" height="4.14" fill="#d955a7" stroke="#111" stroke-width="1"/>
<line x1="547.4" y1="301.5" x2="547.4" y2="302.42" stroke="#111" stroke-width="1.1"/>
<line x1="544.9" y1="301.5" x2="549.9" y2="301.5" stroke="#111" stroke-width="1.1"/>
<line x1="544.9" y1="302.42" x2="549.9" y2="302.42" stroke="#111" stroke-width="1.1"/>
<rect x="556.48" y="298.06" width="10.4" height="8.04" fill="#efb6d6" stroke="#111" stroke-width="1"/>
<line x1="561.68" y1="297.37" x2="561.68" y2="298.75" stroke="#111" stroke-width="1.1"/>
<line x1="559.18" y1="297.37" x2="564.18" y2="297.37" stroke="#111" stroke-width="1.1"/>
<line x1="559.18" y1="298.75" x2="564.18" y2="298.75" stroke="#111" stroke-width="1.1"/>
<rect x="579.6" y="301.5" width="10.4" height="4.6" fill="#100c0a" stroke="#111" stroke-width="1"/>
<line x1="584.8" y1="301.04" x2="584.8" y2="301.96" stroke="#111" stroke-width="1.1"/>
<line x1="582.3" y1="301.04" x2="587.3" y2="301.04" stroke="#111" stroke-width="1.1"/>
<line x1="582.3" y1="301.96" x2="587.3" y2="301.96" stroke="#111" stroke-width="1.1"/>
<rect x="593.88" y="293.46" width="10.4" height="12.64" fill="#aaaaaa" stroke="#111" stroke-width="1"/>
<line x1="599.08" y1="291.85" x2="599.08" y2="295.07" stroke="#111" stroke-width="1.1"/>
<line x1="596.58" y1="291.85" x2="601.58" y2="291.85" stroke="#111" stroke-width="1.1"/>
<line x1="596.58" y1="295.07" x2="601.58" y2="295.07" stroke="#111" stroke-width="1.1"/>
<rect x="608.16" y="286.57" width="10.4" height="19.53" fill="#671856" stroke="#111" stroke-width="1"/>
<line x1="613.36" y1="282.43" x2="613.36" y2="290.7" stroke="#111" stroke-width="1.1"/>
<line x1="610.86" y1="282.43" x2="615.86" y2="282.43" stroke="#111" stroke-width="1.1"/>
<line x1="610.86" y1="290.7" x2="615.86" y2="290.7" stroke="#111" stroke-width="1.1"/>
<rect x="622.44" y="301.96" width="10.4" height="4.14" fill="#84197c" stroke="#111" stroke-width="1"/>
<line x1="627.64" y1="301.5" x2="627.64" y2="302.42" stroke="#111" stroke-width="1.1"/>
<line x1="625.14" y1="301.5" x2="630.14" y2="301.5" stroke="#111" stroke-width="1.1"/>
<line x1="625.14" y1="302.42" x2="630.14" y2="302.42" stroke="#111" stroke-width="1.1"/>
<rect x="636.72" y="302.88" width="10.4" height="3.22" fill="#ab2d97" stroke="#111" stroke-width="1"/>
<line x1="641.92" y1="302.42" x2="641.92" y2="303.34" stroke="#111" stroke-width="1.1"/>
<line x1="639.42" y1="302.42" x2="644.42" y2="302.42" stroke="#111" stroke-width="1.1"/>
<line x1="639.42" y1="303.34" x2="644.42" y2="303.34" stroke="#111" stroke-width="1.1"/>
<rect x="651" y="302.88" width="10.4" height="3.22" fill="#d955a7" stroke="#111" stroke-width="1"/>
<line x1="656.2" y1="302.42" x2="656.2" y2="303.34" stroke="#111" stroke-width="1.1"/>
<line x1="653.7" y1="302.42" x2="658.7" y2="302.42" stroke="#111" stroke-width="1.1"/>
<line x1="653.7" y1="303.34" x2="658.7" y2="303.34" stroke="#111" stroke-width="1.1"/>
<rect x="665.28" y="293.46" width="10.4" height="12.64" fill="#efb6d6" stroke="#111" stroke-width="1"/>
<line x1="670.48" y1="289.09" x2="670.48" y2="297.83" stroke="#111" stroke-width="1.1"/>
<line x1="667.98" y1="289.09" x2="672.98" y2="289.09" stroke="#111" stroke-width="1.1"/>
<line x1="667.98" y1="297.83" x2="672.98" y2="297.83" stroke="#111" stroke-width="1.1"/>
<text x="381.43" y="197.97" font-size="11" text-anchor="middle" letter-spacing="-0.3" stroke="#2a2a2a" stroke-width="0.2" fill="#2a2a2a">***</text>
<text x="395.71" y="272.57" font-size="11" text-anchor="middle" letter-spacing="-0.3" stroke="#2a2a2a" stroke-width="0.2" fill="#2a2a2a">***</text>
<text x="452.83" y="286.47" font-size="11" text-anchor="middle" letter-spacing="-0.3" stroke="#2a2a2a" stroke-width="0.2" fill="#2a2a2a">**</text>
<text x="490.43" y="260.27" font-size="11" text-anchor="middle" letter-spacing="-0.3" stroke="#2a2a2a" stroke-width="0.2" fill="#2a2a2a">**</text>
<text x="504.71" y="285.77" font-size="11" text-anchor="middle" letter-spacing="-0.3" stroke="#2a2a2a" stroke-width="0.2" fill="#2a2a2a">**</text>
<text x="599.23" y="290.27" font-size="11" text-anchor="middle" letter-spacing="-0.3" stroke="#2a2a2a" stroke-width="0.2" fill="#2a2a2a">**</text>
<text x="613.51" y="281.77" font-size="11" text-anchor="middle" letter-spacing="-0.3" stroke="#2a2a2a" stroke-width="0.2" fill="#2a2a2a">*</text>
<text x="670.63" y="290.27" font-size="11" text-anchor="middle" letter-spacing="-0.3" stroke="#2a2a2a" stroke-width="0.2" fill="#2a2a2a">*</text>
<text x="409.84" y="321.4" font-size="10.4" text-anchor="middle" stroke="#1a1a1a" stroke-width="0.2" fill="#1a1a1a">YAP</text>
<text x="518.84" y="321.4" font-size="10.4" text-anchor="middle" stroke="#1a1a1a" stroke-width="0.2" fill="#1a1a1a">TAZ</text>
<text x="627.64" y="321.4" font-size="10.4" text-anchor="middle" stroke="#1a1a1a" stroke-width="0.2" fill="#1a1a1a">TEAD4</text>
<text transform="translate(334.52,251.9) rotate(-90)" font-size="10.6" text-anchor="middle" stroke="#1a1a1a" stroke-width="0.2" fill="#1a1a1a">Normalized input %</text>
<rect x="666" y="160.2" width="9" height="9" fill="#100c0a" stroke="#111" stroke-width="1"/>
<text x="678.5" y="168.6" font-size="10.3" stroke="#1a1a1a" stroke-width="0.2" fill="#1a1a1a">CT -</text>
<rect x="666" y="172.72" width="9" height="9" fill="#aaaaaa" stroke="#111" stroke-width="1"/>
<text x="678.5" y="181.12" font-size="10.3" stroke="#1a1a1a" stroke-width="0.2" fill="#1a1a1a">CTGF</text>
<rect x="666" y="185.24" width="9" height="9" fill="#671856" stroke="#111" stroke-width="1"/>
<text x="678.5" y="193.64" font-size="10.3" stroke="#1a1a1a" stroke-width="0.2" fill="#1a1a1a">TAZ_A</text>
<rect x="666" y="197.76" width="9" height="9" fill="#84197c" stroke="#111" stroke-width="1"/>
<text x="678.5" y="206.16" font-size="10.3" stroke="#1a1a1a" stroke-width="0.2" fill="#1a1a1a">TAZ_B</text>
<rect x="666" y="210.28" width="9" height="9" fill="#ab2d97" stroke="#111" stroke-width="1"/>
<text x="678.5" y="218.68" font-size="10.3" stroke="#1a1a1a" stroke-width="0.2" fill="#1a1a1a">TAZ_C</text>
<rect x="666" y="222.8" width="9" height="9" fill="#d955a7" stroke="#111" stroke-width="1"/>
<text x="678.5" y="231.2" font-size="10.3" stroke="#1a1a1a" stroke-width="0.2" fill="#1a1a1a">TAZ_D</text>
<rect x="666" y="235.32" width="9" height="9" fill="#efb6d6" stroke="#111" stroke-width="1"/>
<text x="678.5" y="243.72" font-size="10.3" stroke="#1a1a1a" stroke-width="0.2" fill="#1a1a1a">TAZ_E</text>
<text x="1.6" y="347.1" font-size="17" font-weight="bold" fill="#111">D</text>
<text x="131.8" y="357.9" font-size="15.8" stroke="#1a1a1a" stroke-width="0.2" fill="#1a1a1a">A549</text>
<line x1="34.6" y1="372.3" x2="34.6" y2="464" stroke="#1a1a1a" stroke-width="1.1"/>
<line x1="32.3" y1="463.5" x2="34.6" y2="463.5" stroke="#1a1a1a" stroke-width="1.1"/>
<text x="29.1" y="467.24" font-size="10.4" text-anchor="end" stroke="#1a1a1a" stroke-width="0.2" fill="#1a1a1a">0.0</text>
<line x1="32.3" y1="433.15" x2="34.6" y2="433.15" stroke="#1a1a1a" stroke-width="1.1"/>
<text x="29.1" y="436.89" font-size="10.4" text-anchor="end" stroke="#1a1a1a" stroke-width="0.2" fill="#1a1a1a">0.5</text>
<line x1="32.3" y1="402.8" x2="34.6" y2="402.8" stroke="#1a1a1a" stroke-width="1.1"/>
<text x="29.1" y="406.54" font-size="10.4" text-anchor="end" stroke="#1a1a1a" stroke-width="0.2" fill="#1a1a1a">1.0</text>
<line x1="32.3" y1="372.45" x2="34.6" y2="372.45" stroke="#1a1a1a" stroke-width="1.1"/>
<text x="29.1" y="376.19" font-size="10.4" text-anchor="end" stroke="#1a1a1a" stroke-width="0.2" fill="#1a1a1a">1.5</text>
<line x1="34.1" y1="463.5" x2="132" y2="463.5" stroke="#1a1a1a" stroke-width="1.1"/>
<line x1="58.9" y1="463.5" x2="58.9" y2="466" stroke="#1a1a1a" stroke-width="1.1"/>
<line x1="107.45" y1="463.5" x2="107.45" y2="466" stroke="#1a1a1a" stroke-width="1.1"/>
<rect x="42.5" y="402.8" width="32.8" height="60.7" fill="#100c0a" stroke="#111" stroke-width="1"/>
<line x1="58.9" y1="400.37" x2="58.9" y2="405.23" stroke="#111" stroke-width="1.1"/>
<line x1="50.7" y1="400.37" x2="67.1" y2="400.37" stroke="#111" stroke-width="1.1"/>
<line x1="50.7" y1="405.23" x2="67.1" y2="405.23" stroke="#111" stroke-width="1.1"/>
<rect x="91" y="450.15" width="32.9" height="13.35" fill="#a8a8a8" stroke="#111" stroke-width="1"/>
<line x1="107.45" y1="448.32" x2="107.45" y2="451.97" stroke="#111" stroke-width="1.1"/>
<line x1="99.23" y1="448.32" x2="115.67" y2="448.32" stroke="#111" stroke-width="1.1"/>
<line x1="99.23" y1="451.97" x2="115.67" y2="451.97" stroke="#111" stroke-width="1.1"/>
<text x="87.5" y="368.5" font-size="10.4" text-anchor="middle" stroke="#1a1a1a" stroke-width="0.2" fill="#1a1a1a">TAZ-AS202</text>
<line x1="57.6" y1="391.5" x2="106.7" y2="391.5" stroke="#222" stroke-width="0.8"/>
<text x="82.35" y="391.47" font-size="11" text-anchor="middle" letter-spacing="-0.3" stroke="#2a2a2a" stroke-width="0.2" fill="#2a2a2a">***</text>
<text x="7.6" y="479.7" font-size="10.4" stroke="#1a1a1a" stroke-width="0.2" fill="#1a1a1a">siRNA</text>
<text x="59.2" y="479.7" font-size="10.4" text-anchor="middle" stroke="#1a1a1a" stroke-width="0.2" fill="#1a1a1a">CT</text>
<text x="108.4" y="479.7" font-size="10.4" text-anchor="middle" stroke="#1a1a1a" stroke-width="0.2" fill="#1a1a1a">TAZ-AS202 #1</text>
<text transform="translate(13.12,414.9) rotate(-90)" font-size="10.6" text-anchor="middle" stroke="#1a1a1a" stroke-width="0.2" fill="#1a1a1a">Relative expression</text>
<line x1="181.7" y1="372.4" x2="181.7" y2="464.7" stroke="#1a1a1a" stroke-width="1.1"/>
<line x1="179.4" y1="464.2" x2="181.7" y2="464.2" stroke="#1a1a1a" stroke-width="1.1"/>
<text x="176.2" y="467.94" font-size="10.4" text-anchor="end" stroke="#1a1a1a" stroke-width="0.2" fill="#1a1a1a">0.0</text>
<line x1="179.4" y1="433.6" x2="181.7" y2="433.6" stroke="#1a1a1a" stroke-width="1.1"/>
<text x="176.2" y="437.34" font-size="10.4" text-anchor="end" stroke="#1a1a1a" stroke-width="0.2" fill="#1a1a1a">0.5</text>
<line x1="179.4" y1="403" x2="181.7" y2="403" stroke="#1a1a1a" stroke-width="1.1"/>
<text x="176.2" y="406.74" font-size="10.4" text-anchor="end" stroke="#1a1a1a" stroke-width="0.2" fill="#1a1a1a">1.0</text>
<line x1="179.4" y1="372.4" x2="181.7" y2="372.4" stroke="#1a1a1a" stroke-width="1.1"/>
<text x="176.2" y="376.14" font-size="10.4" text-anchor="end" stroke="#1a1a1a" stroke-width="0.2" fill="#1a1a1a">1.5</text>
<line x1="181.2" y1="464.2" x2="277.5" y2="464.2" stroke="#1a1a1a" stroke-width="1.1"/>
<line x1="205.65" y1="464.2" x2="205.65" y2="466.7" stroke="#1a1a1a" stroke-width="1.1"/>
<line x1="254.35" y1="464.2" x2="254.35" y2="466.7" stroke="#1a1a1a" stroke-width="1.1"/>
<rect x="189.4" y="403" width="32.5" height="61.2" fill="#100c0a" stroke="#111" stroke-width="1"/>
<line x1="205.65" y1="398.1" x2="205.65" y2="407.9" stroke="#111" stroke-width="1.1"/>
<line x1="197.53" y1="398.1" x2="213.78" y2="398.1" stroke="#111" stroke-width="1.1"/>
<line x1="197.53" y1="407.9" x2="213.78" y2="407.9" stroke="#111" stroke-width="1.1"/>
<rect x="238.3" y="459.92" width="32.1" height="4.28" fill="#e3191c" stroke="#111" stroke-width="1"/>
<line x1="254.35" y1="459.55" x2="254.35" y2="460.28" stroke="#111" stroke-width="1.1"/>
<line x1="246.33" y1="459.55" x2="262.38" y2="459.55" stroke="#111" stroke-width="1.1"/>
<line x1="246.33" y1="460.28" x2="262.38" y2="460.28" stroke="#111" stroke-width="1.1"/>
<text x="226.3" y="368.7" font-size="10.4" text-anchor="middle" stroke="#1a1a1a" stroke-width="0.2" fill="#1a1a1a">TAZ</text>
<line x1="202.7" y1="391.9" x2="251.2" y2="391.9" stroke="#222" stroke-width="0.8"/>
<text x="227.15" y="391.87" font-size="11" text-anchor="middle" letter-spacing="-0.3" stroke="#2a2a2a" stroke-width="0.2" fill="#2a2a2a">***</text>
<text x="205.6" y="479.2" font-size="10.4" text-anchor="middle" stroke="#1a1a1a" stroke-width="0.2" fill="#1a1a1a">CT</text>
<text x="254.3" y="479.2" font-size="10.4" text-anchor="middle" stroke="#1a1a1a" stroke-width="0.2" fill="#1a1a1a">TAZ</text>
<text transform="translate(159.12,415.2) rotate(-90)" font-size="10.6" text-anchor="middle" stroke="#1a1a1a" stroke-width="0.2" fill="#1a1a1a">Relative expression</text>
<text x="281.3" y="410.4" font-size="10.2" stroke="#1a1a1a" stroke-width="0.2" fill="#1a1a1a">siRNA</text>
<text x="317" y="410.4" font-size="10.2" stroke="#1a1a1a" stroke-width="0.2" fill="#1a1a1a">CT</text>
<text x="334.7" y="410.4" font-size="10.2" stroke="#1a1a1a" stroke-width="0.2" fill="#1a1a1a">TAZ</text>
<rect x="314.4" y="416.4" width="38.1" height="14.6" fill="none" stroke="#444" stroke-width="0.9"/>
<rect x="314.4" y="434.1" width="38.1" height="14.6" fill="none" stroke="#444" stroke-width="0.9"/>
<text x="310.8" y="427.5" font-size="10.2" text-anchor="end" stroke="#1a1a1a" stroke-width="0.2" fill="#1a1a1a">TAZ</text>
<text x="310.8" y="444.9" font-size="10.2" text-anchor="end" stroke="#1a1a1a" stroke-width="0.2" fill="#1a1a1a">βactin</text>
<path d="M320.6,422.5 C321.64,422.2 327.8,422.91 331,423.11 Q332.4,424.2 331,425.59 C327.8,425.89 321.64,426.1 320.6,425.9 Q319,424.2 320.6,422.5 Z" fill="#1a1a1a" filter="url(#bl)"/>
<path d="M320,438.3 C322,438 329,439 332.2,439.2 Q333.6,440.8 332.2,442.7 C329,443 322,443.5 320,443.3 Q318.4,440.8 320,438.3 Z" fill="#0a0a0a" filter="url(#bl)"/>
<path d="M336.9,440.5 C338.18,440.2 345.4,440.98 348.6,441.18 Q350,442.4 348.6,443.92 C345.4,444.22 338.18,444.5 336.9,444.3 Q335.3,442.4 336.9,440.5 Z" fill="#0a0a0a" filter="url(#bl)"/>
<text x="360.9" y="347.6" font-size="17" font-weight="bold" fill="#111">E</text>
<text x="490" y="357.9" font-size="15.8" stroke="#1a1a1a" stroke-width="0.2" fill="#1a1a1a">NCI-H23</text>
<line x1="392.3" y1="372.3" x2="392.3" y2="464.5" stroke="#1a1a1a" stroke-width="1.1"/>
<line x1="390" y1="464" x2="392.3" y2="464" stroke="#1a1a1a" stroke-width="1.1"/>
<text x="386.8" y="467.74" font-size="10.4" text-anchor="end" stroke="#1a1a1a" stroke-width="0.2" fill="#1a1a1a">0.0</text>
<line x1="390" y1="433.65" x2="392.3" y2="433.65" stroke="#1a1a1a" stroke-width="1.1"/>
<text x="386.8" y="437.39" font-size="10.4" text-anchor="end" stroke="#1a1a1a" stroke-width="0.2" fill="#1a1a1a">0.5</text>
<line x1="390" y1="403.3" x2="392.3" y2="403.3" stroke="#1a1a1a" stroke-width="1.1"/>
<text x="386.8" y="407.04" font-size="10.4" text-anchor="end" stroke="#1a1a1a" stroke-width="0.2" fill="#1a1a1a">1.0</text>
<line x1="390" y1="372.95" x2="392.3" y2="372.95" stroke="#1a1a1a" stroke-width="1.1"/>
<text x="386.8" y="376.69" font-size="10.4" text-anchor="end" stroke="#1a1a1a" stroke-width="0.2" fill="#1a1a1a">1.5</text>
<line x1="391.8" y1="464" x2="491.5" y2="464" stroke="#1a1a1a" stroke-width="1.1"/>
<line x1="417.2" y1="464" x2="417.2" y2="466.5" stroke="#1a1a1a" stroke-width="1.1"/>
<line x1="466" y1="464" x2="466" y2="466.5" stroke="#1a1a1a" stroke-width="1.1"/>
<rect x="400.5" y="403.3" width="33.4" height="60.7" fill="#100c0a" stroke="#111" stroke-width="1"/>
<line x1="417.2" y1="400.87" x2="417.2" y2="405.73" stroke="#111" stroke-width="1.1"/>
<line x1="408.85" y1="400.87" x2="425.55" y2="400.87" stroke="#111" stroke-width="1.1"/>
<line x1="408.85" y1="405.73" x2="425.55" y2="405.73" stroke="#111" stroke-width="1.1"/>
<rect x="449.3" y="455.5" width="33.4" height="8.5" fill="#a8a8a8" stroke="#111" stroke-width="1"/>
<line x1="466" y1="454.77" x2="466" y2="456.23" stroke="#111" stroke-width="1.1"/>
<line x1="457.65" y1="454.77" x2="474.35" y2="454.77" stroke="#111" stroke-width="1.1"/>
<line x1="457.65" y1="456.23" x2="474.35" y2="456.23" stroke="#111" stroke-width="1.1"/>
<text x="439.4" y="368.5" font-size="10.4" text-anchor="middle" stroke="#1a1a1a" stroke-width="0.2" fill="#1a1a1a">TAZ-AS202</text>
<line x1="417.7" y1="391.5" x2="466.2" y2="391.5" stroke="#222" stroke-width="0.8"/>
<text x="442.15" y="391.47" font-size="11" text-anchor="middle" letter-spacing="-0.3" stroke="#2a2a2a" stroke-width="0.2" fill="#2a2a2a">***</text>
<text x="363.8" y="479.2" font-size="10.4" stroke="#1a1a1a" stroke-width="0.2" fill="#1a1a1a">siRNA</text>
<text x="416.7" y="479.2" font-size="10.4" text-anchor="middle" stroke="#1a1a1a" stroke-width="0.2" fill="#1a1a1a">CT</text>
<text x="467.8" y="479.2" font-size="10.4" text-anchor="middle" stroke="#1a1a1a" stroke-width="0.2" fill="#1a1a1a">TAZ-AS202 #1</text>
<text transform="translate(372.92,414.3) rotate(-90)" font-size="10.6" text-anchor="middle" stroke="#1a1a1a" stroke-width="0.2" fill="#1a1a1a">Relative expression</text>
<line x1="535.2" y1="372.1" x2="535.2" y2="464.6" stroke="#1a1a1a" stroke-width="1.1"/>
<line x1="532.9" y1="464.1" x2="535.2" y2="464.1" stroke="#1a1a1a" stroke-width="1.1"/>
<text x="529.7" y="467.84" font-size="10.4" text-anchor="end" stroke="#1a1a1a" stroke-width="0.2" fill="#1a1a1a">0.0</text>
<line x1="532.9" y1="433.45" x2="535.2" y2="433.45" stroke="#1a1a1a" stroke-width="1.1"/>
<text x="529.7" y="437.19" font-size="10.4" text-anchor="end" stroke="#1a1a1a" stroke-width="0.2" fill="#1a1a1a">0.5</text>
<line x1="532.9" y1="402.8" x2="535.2" y2="402.8" stroke="#1a1a1a" stroke-width="1.1"/>
<text x="529.7" y="406.54" font-size="10.4" text-anchor="end" stroke="#1a1a1a" stroke-width="0.2" fill="#1a1a1a">1.0</text>
<line x1="532.9" y1="372.15" x2="535.2" y2="372.15" stroke="#1a1a1a" stroke-width="1.1"/>
<text x="529.7" y="375.89" font-size="10.4" text-anchor="end" stroke="#1a1a1a" stroke-width="0.2" fill="#1a1a1a">1.5</text>
<line x1="534.7" y1="464.1" x2="632.8" y2="464.1" stroke="#1a1a1a" stroke-width="1.1"/>
<line x1="559.85" y1="464.1" x2="559.85" y2="466.6" stroke="#1a1a1a" stroke-width="1.1"/>
<line x1="608.05" y1="464.1" x2="608.05" y2="466.6" stroke="#1a1a1a" stroke-width="1.1"/>
<rect x="543.6" y="402.8" width="32.5" height="61.3" fill="#100c0a" stroke="#111" stroke-width="1"/>
<line x1="559.85" y1="399.74" x2="559.85" y2="405.87" stroke="#111" stroke-width="1.1"/>
<line x1="551.73" y1="399.74" x2="567.98" y2="399.74" stroke="#111" stroke-width="1.1"/>
<line x1="551.73" y1="405.87" x2="567.98" y2="405.87" stroke="#111" stroke-width="1.1"/>
<rect x="592" y="461.04" width="32.1" height="3.06" fill="#e3191c" stroke="#111" stroke-width="1"/>
<line x1="608.05" y1="460.79" x2="608.05" y2="461.28" stroke="#111" stroke-width="1.1"/>
<line x1="600.02" y1="460.79" x2="616.07" y2="460.79" stroke="#111" stroke-width="1.1"/>
<line x1="600.02" y1="461.28" x2="616.07" y2="461.28" stroke="#111" stroke-width="1.1"/>
<text x="579.8" y="368.7" font-size="10.4" text-anchor="middle" stroke="#1a1a1a" stroke-width="0.2" fill="#1a1a1a">TAZ</text>
<line x1="553.9" y1="390.5" x2="604.7" y2="390.5" stroke="#222" stroke-width="0.8"/>
<text x="579.45" y="390.47" font-size="11" text-anchor="middle" letter-spacing="-0.3" stroke="#2a2a2a" stroke-width="0.2" fill="#2a2a2a">***</text>
<text x="559.8" y="479.2" font-size="10.4" text-anchor="middle" stroke="#1a1a1a" stroke-width="0.2" fill="#1a1a1a">CT</text>
<text x="608.2" y="479.2" font-size="10.4" text-anchor="middle" stroke="#1a1a1a" stroke-width="0.2" fill="#1a1a1a">TAZ</text>
<text transform="translate(513.42,415.5) rotate(-90)" font-size="10.6" text-anchor="middle" stroke="#1a1a1a" stroke-width="0.2" fill="#1a1a1a">Relative expression</text>
<text x="638.1" y="409.8" font-size="10.2" stroke="#1a1a1a" stroke-width="0.2" fill="#1a1a1a">siRNA</text>
<text x="673.3" y="409.8" font-size="10.2" stroke="#1a1a1a" stroke-width="0.2" fill="#1a1a1a">CT</text>
<text x="691.1" y="409.8" font-size="10.2" stroke="#1a1a1a" stroke-width="0.2" fill="#1a1a1a">TAZ</text>
<rect x="672.4" y="415.8" width="37.4" height="14.6" fill="none" stroke="#444" stroke-width="0.9"/>
<rect x="672.4" y="433.5" width="37.4" height="14.6" fill="none" stroke="#444" stroke-width="0.9"/>
<text x="668.7" y="426.9" font-size="10.2" text-anchor="end" stroke="#1a1a1a" stroke-width="0.2" fill="#1a1a1a">TAZ</text>
<text x="668.7" y="444.3" font-size="10.2" text-anchor="end" stroke="#1a1a1a" stroke-width="0.2" fill="#1a1a1a">βactin</text>
<path d="M677,420.9 C678.28,420.6 685.8,421.38 689,421.58 Q690.4,422.8 689,424.32 C685.8,424.62 678.28,424.9 677,424.7 Q675.4,422.8 677,420.9 Z" fill="#0a0a0a" filter="url(#bl)"/>
<path d="M675.6,438.7 C676.4,438.4 686.6,439.04 689.8,439.24 Q691.2,440.2 689.8,441.46 C686.6,441.76 676.4,441.9 675.6,441.7 Q674,440.2 675.6,438.7 Z" fill="#1a1a1a" filter="url(#bl)"/>
<path d="M693.5,438.9 C694.3,438.6 703.6,439.24 706.8,439.44 Q708.2,440.4 706.8,441.66 C703.6,441.96 694.3,442.1 693.5,441.9 Q691.9,440.4 693.5,438.9 Z" fill="#1a1a1a" filter="url(#bl)"/>
<text x="1.6" y="508.8" font-size="17" font-weight="bold" fill="#111">F</text>
<text x="158.7" y="523.2" font-size="15.8" stroke="#1a1a1a" stroke-width="0.2" fill="#1a1a1a">A549</text>
<line x1="31.6" y1="536.8" x2="31.6" y2="633.8" stroke="#1a1a1a" stroke-width="1.1"/>
<line x1="29" y1="633.3" x2="31.6" y2="633.3" stroke="#1a1a1a" stroke-width="1.1"/>
<text x="26.6" y="637.04" font-size="10.4" text-anchor="end" stroke="#1a1a1a" stroke-width="0.2" fill="#1a1a1a">0</text>
<line x1="29" y1="601.15" x2="31.6" y2="601.15" stroke="#1a1a1a" stroke-width="1.1"/>
<text x="26.6" y="604.89" font-size="10.4" text-anchor="end" stroke="#1a1a1a" stroke-width="0.2" fill="#1a1a1a">5</text>
<line x1="29" y1="569" x2="31.6" y2="569" stroke="#1a1a1a" stroke-width="1.1"/>
<text x="26.6" y="572.74" font-size="10.4" text-anchor="end" stroke="#1a1a1a" stroke-width="0.2" fill="#1a1a1a">10</text>
<line x1="29" y1="536.85" x2="31.6" y2="536.85" stroke="#1a1a1a" stroke-width="1.1"/>
<text x="26.6" y="540.59" font-size="10.4" text-anchor="end" stroke="#1a1a1a" stroke-width="0.2" fill="#1a1a1a">15</text>
<line x1="31.1" y1="633.3" x2="158" y2="633.3" stroke="#1a1a1a" stroke-width="1.1"/>
<line x1="47.5" y1="633.3" x2="47.5" y2="636.3" stroke="#1a1a1a" stroke-width="1.1"/>
<line x1="79.1" y1="633.3" x2="79.1" y2="636.3" stroke="#1a1a1a" stroke-width="1.1"/>
<line x1="110.7" y1="633.3" x2="110.7" y2="636.3" stroke="#1a1a1a" stroke-width="1.1"/>
<line x1="142.8" y1="633.3" x2="142.8" y2="636.3" stroke="#1a1a1a" stroke-width="1.1"/>
<text x="47.5" y="648.2" font-size="10.4" text-anchor="middle" stroke="#1a1a1a" stroke-width="0.2" fill="#1a1a1a">0</text>
<text x="79.1" y="648.2" font-size="10.4" text-anchor="middle" stroke="#1a1a1a" stroke-width="0.2" fill="#1a1a1a">24</text>
<text x="110.7" y="648.2" font-size="10.4" text-anchor="middle" stroke="#1a1a1a" stroke-width="0.2" fill="#1a1a1a">48</text>
<text x="142.8" y="648.2" font-size="10.4" text-anchor="middle" stroke="#1a1a1a" stroke-width="0.2" fill="#1a1a1a">72</text>
<text x="94.5" y="657.9" font-size="10.4" text-anchor="middle" stroke="#1a1a1a" stroke-width="0.2" fill="#1a1a1a">Time (hours)</text>
<text transform="translate(13.12,585.5) rotate(-90)" font-size="10.6" text-anchor="middle" stroke="#1a1a1a" stroke-width="0.2" fill="#1a1a1a">Normalized cell area</text>
<path d="M47.5,626.87 L79.1,614.97 L110.7,590.22 L142.8,567.71" fill="none" stroke="#a9a9a9" stroke-width="1.15" stroke-linejoin="round"/>
<rect x="45.2" y="624.57" width="4.6" height="4.6" fill="#a9a9a9"/>
<rect x="76.8" y="612.67" width="4.6" height="4.6" fill="#a9a9a9"/>
<rect x="108.4" y="587.92" width="4.6" height="4.6" fill="#a9a9a9"/>
<rect x="140.5" y="565.41" width="4.6" height="4.6" fill="#a9a9a9"/>
<path d="M47.5,626.87 L79.1,615.3 L110.7,591.5 L142.8,578" fill="none" stroke="#111" stroke-width="1.15" stroke-linejoin="round"/>
<circle cx="47.5" cy="626.87" r="2.3" fill="#111"/>
<circle cx="79.1" cy="615.3" r="2.3" fill="#111"/>
<circle cx="110.7" cy="591.5" r="2.3" fill="#111"/>
<rect x="140.5" y="575.7" width="4.6" height="4.6" fill="#111"/>
<line x1="35.4" y1="535" x2="45.5" y2="535" stroke="#111" stroke-width="1.1"/>
<circle cx="40.45" cy="535" r="2" fill="#111"/>
<text x="47.5" y="538.7" font-size="10.4" stroke="#1a1a1a" stroke-width="0.2" fill="#1a1a1a">siCT</text>
<line x1="35.4" y1="546.1" x2="45.5" y2="546.1" stroke="#a9a9a9" stroke-width="1.1"/>
<rect x="38.45" y="544.1" width="4" height="4" fill="#a9a9a9"/>
<text x="47.5" y="549.8" font-size="10.4" stroke="#1a1a1a" stroke-width="0.2" fill="#1a1a1a">siTAZ-AS202 #1</text>
<text x="143.45" y="566.57" font-size="11" text-anchor="middle" letter-spacing="-0.3" stroke="#2a2a2a" stroke-width="0.2" fill="#2a2a2a">*</text>
<line x1="204" y1="536" x2="204" y2="633.6" stroke="#1a1a1a" stroke-width="1.1"/>
<line x1="201.4" y1="633.1" x2="204" y2="633.1" stroke="#1a1a1a" stroke-width="1.1"/>
<text x="199" y="636.84" font-size="10.4" text-anchor="end" stroke="#1a1a1a" stroke-width="0.2" fill="#1a1a1a">0</text>
<line x1="201.4" y1="600.75" x2="204" y2="600.75" stroke="#1a1a1a" stroke-width="1.1"/>
<text x="199" y="604.49" font-size="10.4" text-anchor="end" stroke="#1a1a1a" stroke-width="0.2" fill="#1a1a1a">5</text>
<line x1="201.4" y1="568.4" x2="204" y2="568.4" stroke="#1a1a1a" stroke-width="1.1"/>
<text x="199" y="572.14" font-size="10.4" text-anchor="end" stroke="#1a1a1a" stroke-width="0.2" fill="#1a1a1a">10</text>
<line x1="201.4" y1="536.05" x2="204" y2="536.05" stroke="#1a1a1a" stroke-width="1.1"/>
<text x="199" y="539.79" font-size="10.4" text-anchor="end" stroke="#1a1a1a" stroke-width="0.2" fill="#1a1a1a">15</text>
<line x1="203.5" y1="633.1" x2="339" y2="633.1" stroke="#1a1a1a" stroke-width="1.1"/>
<line x1="220.4" y1="633.1" x2="220.4" y2="636.1" stroke="#1a1a1a" stroke-width="1.1"/>
<line x1="254.7" y1="633.1" x2="254.7" y2="636.1" stroke="#1a1a1a" stroke-width="1.1"/>
<line x1="288.4" y1="633.1" x2="288.4" y2="636.1" stroke="#1a1a1a" stroke-width="1.1"/>
<line x1="321.5" y1="633.1" x2="321.5" y2="636.1" stroke="#1a1a1a" stroke-width="1.1"/>
<text x="220.4" y="648.2" font-size="10.4" text-anchor="middle" stroke="#1a1a1a" stroke-width="0.2" fill="#1a1a1a">0</text>
<text x="254.7" y="648.2" font-size="10.4" text-anchor="middle" stroke="#1a1a1a" stroke-width="0.2" fill="#1a1a1a">24</text>
<text x="288.4" y="648.2" font-size="10.4" text-anchor="middle" stroke="#1a1a1a" stroke-width="0.2" fill="#1a1a1a">48</text>
<text x="321.5" y="648.2" font-size="10.4" text-anchor="middle" stroke="#1a1a1a" stroke-width="0.2" fill="#1a1a1a">72</text>
<text x="268.5" y="658.1" font-size="10.4" text-anchor="middle" stroke="#1a1a1a" stroke-width="0.2" fill="#1a1a1a">Time (hours)</text>
<text transform="translate(185.82,585.6) rotate(-90)" font-size="10.6" text-anchor="middle" stroke="#1a1a1a" stroke-width="0.2" fill="#1a1a1a">Normalized cell area</text>
<path d="M220.4,626.63 L254.7,614.98 L288.4,595.57 L321.5,563.87" fill="none" stroke="#e3191c" stroke-width="1.15" stroke-linejoin="round"/>
<rect x="218.1" y="624.33" width="4.6" height="4.6" fill="#e3191c"/>
<rect x="252.4" y="612.68" width="4.6" height="4.6" fill="#e3191c"/>
<rect x="286.1" y="593.27" width="4.6" height="4.6" fill="#e3191c"/>
<rect x="319.2" y="561.57" width="4.6" height="4.6" fill="#e3191c"/>
<path d="M220.4,626.63 L254.7,610.46 L288.4,582.63 L321.5,567.75" fill="none" stroke="#111" stroke-width="1.15" stroke-linejoin="round"/>
<circle cx="220.4" cy="626.63" r="2.3" fill="#111"/>
<circle cx="254.7" cy="610.46" r="2.3" fill="#111"/>
<circle cx="288.4" cy="582.63" r="2.3" fill="#111"/>
<line x1="321.5" y1="565.49" x2="321.5" y2="570.02" stroke="#111" stroke-width="1.1"/>
<line x1="319.3" y1="565.49" x2="323.7" y2="565.49" stroke="#111" stroke-width="1.1"/>
<line x1="319.3" y1="570.02" x2="323.7" y2="570.02" stroke="#111" stroke-width="1.1"/>
<circle cx="321.5" cy="567.75" r="2.3" fill="#111"/>
<line x1="206.3" y1="534.3" x2="216.2" y2="534.3" stroke="#111" stroke-width="1.1"/>
<circle cx="211.25" cy="534.3" r="2" fill="#111"/>
<text x="217.6" y="538" font-size="10.4" stroke="#1a1a1a" stroke-width="0.2" fill="#1a1a1a">siCT</text>
<line x1="206.3" y1="545" x2="216.2" y2="545" stroke="#e3191c" stroke-width="1.1"/>
<rect x="209.25" y="543" width="4" height="4" fill="#e3191c"/>
<text x="217.6" y="548.7" font-size="10.4" stroke="#1a1a1a" stroke-width="0.2" fill="#1a1a1a">siTAZ</text>
<text x="289.35" y="582.07" font-size="11" text-anchor="middle" letter-spacing="-0.3" stroke="#2a2a2a" stroke-width="0.2" fill="#2a2a2a">***</text>
<text x="361" y="508.1" font-size="17" font-weight="bold" fill="#111">G</text>
<text x="516.2" y="523.9" font-size="15.8" stroke="#1a1a1a" stroke-width="0.2" fill="#1a1a1a">NCI-H23</text>
<line x1="394.2" y1="537.3" x2="394.2" y2="633.3" stroke="#1a1a1a" stroke-width="1.1"/>
<line x1="391.6" y1="632.8" x2="394.2" y2="632.8" stroke="#1a1a1a" stroke-width="1.1"/>
<text x="389.2" y="636.54" font-size="10.4" text-anchor="end" stroke="#1a1a1a" stroke-width="0.2" fill="#1a1a1a">0</text>
<line x1="391.6" y1="613.7" x2="394.2" y2="613.7" stroke="#1a1a1a" stroke-width="1.1"/>
<text x="389.2" y="617.44" font-size="10.4" text-anchor="end" stroke="#1a1a1a" stroke-width="0.2" fill="#1a1a1a">1</text>
<line x1="391.6" y1="594.6" x2="394.2" y2="594.6" stroke="#1a1a1a" stroke-width="1.1"/>
<text x="389.2" y="598.34" font-size="10.4" text-anchor="end" stroke="#1a1a1a" stroke-width="0.2" fill="#1a1a1a">2</text>
<line x1="391.6" y1="575.5" x2="394.2" y2="575.5" stroke="#1a1a1a" stroke-width="1.1"/>
<text x="389.2" y="579.24" font-size="10.4" text-anchor="end" stroke="#1a1a1a" stroke-width="0.2" fill="#1a1a1a">3</text>
<line x1="391.6" y1="556.4" x2="394.2" y2="556.4" stroke="#1a1a1a" stroke-width="1.1"/>
<text x="389.2" y="560.14" font-size="10.4" text-anchor="end" stroke="#1a1a1a" stroke-width="0.2" fill="#1a1a1a">4</text>
<line x1="391.6" y1="537.3" x2="394.2" y2="537.3" stroke="#1a1a1a" stroke-width="1.1"/>
<text x="389.2" y="541.04" font-size="10.4" text-anchor="end" stroke="#1a1a1a" stroke-width="0.2" fill="#1a1a1a">5</text>
<line x1="393.7" y1="632.8" x2="524.9" y2="632.8" stroke="#1a1a1a" stroke-width="1.1"/>
<line x1="410.6" y1="632.8" x2="410.6" y2="635.8" stroke="#1a1a1a" stroke-width="1.1"/>
<line x1="443.5" y1="632.8" x2="443.5" y2="635.8" stroke="#1a1a1a" stroke-width="1.1"/>
<line x1="476.3" y1="632.8" x2="476.3" y2="635.8" stroke="#1a1a1a" stroke-width="1.1"/>
<line x1="508.7" y1="632.8" x2="508.7" y2="635.8" stroke="#1a1a1a" stroke-width="1.1"/>
<text x="410.6" y="648.5" font-size="10.4" text-anchor="middle" stroke="#1a1a1a" stroke-width="0.2" fill="#1a1a1a">0</text>
<text x="443.5" y="648.5" font-size="10.4" text-anchor="middle" stroke="#1a1a1a" stroke-width="0.2" fill="#1a1a1a">24</text>
<text x="476.3" y="648.5" font-size="10.4" text-anchor="middle" stroke="#1a1a1a" stroke-width="0.2" fill="#1a1a1a">48</text>
<text x="508.7" y="648.5" font-size="10.4" text-anchor="middle" stroke="#1a1a1a" stroke-width="0.2" fill="#1a1a1a">72</text>
<text x="459.2" y="658.3" font-size="10.4" text-anchor="middle" stroke="#1a1a1a" stroke-width="0.2" fill="#1a1a1a">Time (hours)</text>
<text transform="translate(379.12,586.5) rotate(-90)" font-size="10.6" text-anchor="middle" stroke="#1a1a1a" stroke-width="0.2" fill="#1a1a1a">Normalized cell area</text>
<path d="M410.6,613.7 L443.5,593.64 L476.3,569.77 L508.7,543.98" fill="none" stroke="#a9a9a9" stroke-width="1.15" stroke-linejoin="round"/>
<rect x="408.3" y="611.4" width="4.6" height="4.6" fill="#a9a9a9"/>
<rect x="441.2" y="591.35" width="4.6" height="4.6" fill="#a9a9a9"/>
<rect x="474" y="567.47" width="4.6" height="4.6" fill="#a9a9a9"/>
<rect x="506.4" y="541.68" width="4.6" height="4.6" fill="#a9a9a9"/>
<path d="M410.6,613.7 L443.5,586.96 L476.3,561.17 L508.7,543.98" fill="none" stroke="#111" stroke-width="1.15" stroke-linejoin="round"/>
<circle cx="410.6" cy="613.7" r="2.3" fill="#111"/>
<circle cx="443.5" cy="586.96" r="2.3" fill="#111"/>
<circle cx="476.3" cy="561.17" r="2.3" fill="#111"/>
<rect x="506.4" y="541.68" width="4.6" height="4.6" fill="#111"/>
<line x1="399.2" y1="534.2" x2="408" y2="534.2" stroke="#111" stroke-width="1.1"/>
<circle cx="403.6" cy="534.2" r="2" fill="#111"/>
<text x="410.1" y="537.9" font-size="10.4" stroke="#1a1a1a" stroke-width="0.2" fill="#1a1a1a">siCT</text>
<line x1="399.2" y1="545.3" x2="408" y2="545.3" stroke="#a9a9a9" stroke-width="1.1"/>
<rect x="401.6" y="543.3" width="4" height="4" fill="#a9a9a9"/>
<text x="410.1" y="549" font-size="10.4" stroke="#1a1a1a" stroke-width="0.2" fill="#1a1a1a">siTAZ-AS202 #1</text>
<line x1="577.3" y1="537" x2="577.3" y2="633.5" stroke="#1a1a1a" stroke-width="1.1"/>
<line x1="574.7" y1="633" x2="577.3" y2="633" stroke="#1a1a1a" stroke-width="1.1"/>
<text x="572.3" y="636.74" font-size="10.4" text-anchor="end" stroke="#1a1a1a" stroke-width="0.2" fill="#1a1a1a">0</text>
<line x1="574.7" y1="613.8" x2="577.3" y2="613.8" stroke="#1a1a1a" stroke-width="1.1"/>
<text x="572.3" y="617.54" font-size="10.4" text-anchor="end" stroke="#1a1a1a" stroke-width="0.2" fill="#1a1a1a">1</text>
<line x1="574.7" y1="594.6" x2="577.3" y2="594.6" stroke="#1a1a1a" stroke-width="1.1"/>
<text x="572.3" y="598.34" font-size="10.4" text-anchor="end" stroke="#1a1a1a" stroke-width="0.2" fill="#1a1a1a">2</text>
<line x1="574.7" y1="575.4" x2="577.3" y2="575.4" stroke="#1a1a1a" stroke-width="1.1"/>
<text x="572.3" y="579.14" font-size="10.4" text-anchor="end" stroke="#1a1a1a" stroke-width="0.2" fill="#1a1a1a">3</text>
<line x1="574.7" y1="556.2" x2="577.3" y2="556.2" stroke="#1a1a1a" stroke-width="1.1"/>
<text x="572.3" y="559.94" font-size="10.4" text-anchor="end" stroke="#1a1a1a" stroke-width="0.2" fill="#1a1a1a">4</text>
<line x1="574.7" y1="537" x2="577.3" y2="537" stroke="#1a1a1a" stroke-width="1.1"/>
<text x="572.3" y="540.74" font-size="10.4" text-anchor="end" stroke="#1a1a1a" stroke-width="0.2" fill="#1a1a1a">5</text>
<line x1="576.8" y1="633" x2="704.7" y2="633" stroke="#1a1a1a" stroke-width="1.1"/>
<line x1="592.8" y1="633" x2="592.8" y2="636" stroke="#1a1a1a" stroke-width="1.1"/>
<line x1="625.2" y1="633" x2="625.2" y2="636" stroke="#1a1a1a" stroke-width="1.1"/>
<line x1="657" y1="633" x2="657" y2="636" stroke="#1a1a1a" stroke-width="1.1"/>
<line x1="689.1" y1="633" x2="689.1" y2="636" stroke="#1a1a1a" stroke-width="1.1"/>
<text x="592.8" y="648.5" font-size="10.4" text-anchor="middle" stroke="#1a1a1a" stroke-width="0.2" fill="#1a1a1a">0</text>
<text x="625.2" y="648.5" font-size="10.4" text-anchor="middle" stroke="#1a1a1a" stroke-width="0.2" fill="#1a1a1a">24</text>
<text x="657" y="648.5" font-size="10.4" text-anchor="middle" stroke="#1a1a1a" stroke-width="0.2" fill="#1a1a1a">48</text>
<text x="689.1" y="648.5" font-size="10.4" text-anchor="middle" stroke="#1a1a1a" stroke-width="0.2" fill="#1a1a1a">72</text>
<text x="642.3" y="658.1" font-size="10.4" text-anchor="middle" stroke="#1a1a1a" stroke-width="0.2" fill="#1a1a1a">Time (hours)</text>
<text transform="translate(561.82,586.2) rotate(-90)" font-size="10.6" text-anchor="middle" stroke="#1a1a1a" stroke-width="0.2" fill="#1a1a1a">Normalized cell area</text>
<path d="M592.8,613.8 L625.2,590.76 L657,575.4 L689.1,562.92" fill="none" stroke="#e3191c" stroke-width="1.15" stroke-linejoin="round"/>
<rect x="590.5" y="611.5" width="4.6" height="4.6" fill="#e3191c"/>
<rect x="622.9" y="588.46" width="4.6" height="4.6" fill="#e3191c"/>
<rect x="654.7" y="573.1" width="4.6" height="4.6" fill="#e3191c"/>
<rect x="686.8" y="560.62" width="4.6" height="4.6" fill="#e3191c"/>
<path d="M592.8,613.8 L625.2,586.92 L657,561 L689.1,543.72" fill="none" stroke="#111" stroke-width="1.15" stroke-linejoin="round"/>
<circle cx="592.8" cy="613.8" r="2.3" fill="#111"/>
<circle cx="625.2" cy="586.92" r="2.3" fill="#111"/>
<circle cx="657" cy="561" r="2.3" fill="#111"/>
<rect x="686.8" y="541.42" width="4.6" height="4.6" fill="#111"/>
<line x1="581.5" y1="533.7" x2="590.7" y2="533.7" stroke="#111" stroke-width="1.1"/>
<circle cx="586.1" cy="533.7" r="2" fill="#111"/>
<text x="592.3" y="537.4" font-size="10.4" stroke="#1a1a1a" stroke-width="0.2" fill="#1a1a1a">siCT</text>
<line x1="581.5" y1="545.8" x2="590.7" y2="545.8" stroke="#e3191c" stroke-width="1.1"/>
<rect x="584.1" y="543.8" width="4" height="4" fill="#e3191c"/>
<text x="592.3" y="549.5" font-size="10.4" stroke="#1a1a1a" stroke-width="0.2" fill="#1a1a1a">siTAZ</text>
<text x="657.15" y="558.87" font-size="11" text-anchor="middle" letter-spacing="-0.3" stroke="#2a2a2a" stroke-width="0.2" fill="#2a2a2a">***</text>
<text x="689.15" y="541.87" font-size="11" text-anchor="middle" letter-spacing="-0.3" stroke="#2a2a2a" stroke-width="0.2" fill="#2a2a2a">***</text>
<text x="1.6" y="677.6" font-size="17" font-weight="bold" fill="#111">H</text>
<text x="159.1" y="690.9" font-size="15.8" stroke="#1a1a1a" stroke-width="0.2" fill="#1a1a1a">A549</text>
<line x1="31.9" y1="710.2" x2="31.9" y2="806.7" stroke="#1a1a1a" stroke-width="1.1"/>
<line x1="29.3" y1="806.2" x2="31.9" y2="806.2" stroke="#1a1a1a" stroke-width="1.1"/>
<text x="26.9" y="809.94" font-size="10.4" text-anchor="end" stroke="#1a1a1a" stroke-width="0.2" fill="#1a1a1a">0</text>
<line x1="29.3" y1="774.2" x2="31.9" y2="774.2" stroke="#1a1a1a" stroke-width="1.1"/>
<text x="26.9" y="777.94" font-size="10.4" text-anchor="end" stroke="#1a1a1a" stroke-width="0.2" fill="#1a1a1a">50</text>
<line x1="29.3" y1="742.2" x2="31.9" y2="742.2" stroke="#1a1a1a" stroke-width="1.1"/>
<text x="26.9" y="745.94" font-size="10.4" text-anchor="end" stroke="#1a1a1a" stroke-width="0.2" fill="#1a1a1a">100</text>
<line x1="29.3" y1="710.2" x2="31.9" y2="710.2" stroke="#1a1a1a" stroke-width="1.1"/>
<text x="26.9" y="713.94" font-size="10.4" text-anchor="end" stroke="#1a1a1a" stroke-width="0.2" fill="#1a1a1a">150</text>
<line x1="31.4" y1="806.2" x2="164.8" y2="806.2" stroke="#1a1a1a" stroke-width="1.1"/>
<line x1="45.5" y1="806.2" x2="45.5" y2="809.2" stroke="#1a1a1a" stroke-width="1.1"/>
<line x1="71.8" y1="806.2" x2="71.8" y2="809.2" stroke="#1a1a1a" stroke-width="1.1"/>
<line x1="98.1" y1="806.2" x2="98.1" y2="809.2" stroke="#1a1a1a" stroke-width="1.1"/>
<line x1="124.4" y1="806.2" x2="124.4" y2="809.2" stroke="#1a1a1a" stroke-width="1.1"/>
<line x1="150.9" y1="806.2" x2="150.9" y2="809.2" stroke="#1a1a1a" stroke-width="1.1"/>
<text x="45.5" y="818" font-size="10.4" text-anchor="middle" stroke="#1a1a1a" stroke-width="0.2" fill="#1a1a1a">0</text>
<text x="71.8" y="818" font-size="10.4" text-anchor="middle" stroke="#1a1a1a" stroke-width="0.2" fill="#1a1a1a">19</text>
<text x="98.1" y="818" font-size="10.4" text-anchor="middle" stroke="#1a1a1a" stroke-width="0.2" fill="#1a1a1a">26</text>
<text x="124.4" y="818" font-size="10.4" text-anchor="middle" stroke="#1a1a1a" stroke-width="0.2" fill="#1a1a1a">48</text>
<text x="150.9" y="818" font-size="10.4" text-anchor="middle" stroke="#1a1a1a" stroke-width="0.2" fill="#1a1a1a">54</text>
<text x="94.5" y="830" font-size="10.4" text-anchor="middle" stroke="#1a1a1a" stroke-width="0.2" fill="#1a1a1a">Time (hours)</text>
<text transform="translate(11.02,762.7) rotate(-90)" font-size="10.6" text-anchor="middle" stroke="#1a1a1a" stroke-width="0.2" fill="#1a1a1a">Scratch area (%)</text>
<path d="M45.5,742.2 L71.8,753.08 L98.1,761.4 L124.4,770.36 L150.9,772.28" fill="none" stroke="#a9a9a9" stroke-width="1.15" stroke-linejoin="round"/>
<rect x="43.2" y="739.9" width="4.6" height="4.6" fill="#a9a9a9"/>
<line x1="71.8" y1="751.8" x2="71.8" y2="754.36" stroke="#a9a9a9" stroke-width="1.1"/>
<line x1="69.6" y1="751.8" x2="74" y2="751.8" stroke="#a9a9a9" stroke-width="1.1"/>
<line x1="69.6" y1="754.36" x2="74" y2="754.36" stroke="#a9a9a9" stroke-width="1.1"/>
<rect x="69.5" y="750.78" width="4.6" height="4.6" fill="#a9a9a9"/>
<line x1="98.1" y1="758.2" x2="98.1" y2="764.6" stroke="#a9a9a9" stroke-width="1.1"/>
<line x1="95.9" y1="758.2" x2="100.3" y2="758.2" stroke="#a9a9a9" stroke-width="1.1"/>
<line x1="95.9" y1="764.6" x2="100.3" y2="764.6" stroke="#a9a9a9" stroke-width="1.1"/>
<rect x="95.8" y="759.1" width="4.6" height="4.6" fill="#a9a9a9"/>
<line x1="124.4" y1="766.52" x2="124.4" y2="774.2" stroke="#a9a9a9" stroke-width="1.1"/>
<line x1="122.2" y1="766.52" x2="126.6" y2="766.52" stroke="#a9a9a9" stroke-width="1.1"/>
<line x1="122.2" y1="774.2" x2="126.6" y2="774.2" stroke="#a9a9a9" stroke-width="1.1"/>
<rect x="122.1" y="768.06" width="4.6" height="4.6" fill="#a9a9a9"/>
<line x1="150.9" y1="770.36" x2="150.9" y2="774.2" stroke="#a9a9a9" stroke-width="1.1"/>
<line x1="148.7" y1="770.36" x2="153.1" y2="770.36" stroke="#a9a9a9" stroke-width="1.1"/>
<line x1="148.7" y1="774.2" x2="153.1" y2="774.2" stroke="#a9a9a9" stroke-width="1.1"/>
<rect x="148.6" y="769.98" width="4.6" height="4.6" fill="#a9a9a9"/>
<path d="M45.5,742.2 L71.8,780.6 L98.1,788.92 L124.4,801.72 L150.9,804.92" fill="none" stroke="#111" stroke-width="1.15" stroke-linejoin="round"/>
<circle cx="45.5" cy="742.2" r="2.3" fill="#111"/>
<line x1="71.8" y1="779.32" x2="71.8" y2="781.88" stroke="#111" stroke-width="1.1"/>
<line x1="69.6" y1="779.32" x2="74" y2="779.32" stroke="#111" stroke-width="1.1"/>
<line x1="69.6" y1="781.88" x2="74" y2="781.88" stroke="#111" stroke-width="1.1"/>
<circle cx="71.8" cy="780.6" r="2.3" fill="#111"/>
<line x1="98.1" y1="785.72" x2="98.1" y2="792.12" stroke="#111" stroke-width="1.1"/>
<line x1="95.9" y1="785.72" x2="100.3" y2="785.72" stroke="#111" stroke-width="1.1"/>
<line x1="95.9" y1="792.12" x2="100.3" y2="792.12" stroke="#111" stroke-width="1.1"/>
<circle cx="98.1" cy="788.92" r="2.3" fill="#111"/>
<line x1="124.4" y1="800.76" x2="124.4" y2="802.68" stroke="#111" stroke-width="1.1"/>
<line x1="122.2" y1="800.76" x2="126.6" y2="800.76" stroke="#111" stroke-width="1.1"/>
<line x1="122.2" y1="802.68" x2="126.6" y2="802.68" stroke="#111" stroke-width="1.1"/>
<circle cx="124.4" cy="801.72" r="2.3" fill="#111"/>
<line x1="150.9" y1="804.28" x2="150.9" y2="805.56" stroke="#111" stroke-width="1.1"/>
<line x1="148.7" y1="804.28" x2="153.1" y2="804.28" stroke="#111" stroke-width="1.1"/>
<line x1="148.7" y1="805.56" x2="153.1" y2="805.56" stroke="#111" stroke-width="1.1"/>
<circle cx="150.9" cy="804.92" r="2.3" fill="#111"/>
<line x1="34.1" y1="708" x2="44.2" y2="708" stroke="#111" stroke-width="1.1"/>
<circle cx="39.15" cy="708" r="2" fill="#111"/>
<text x="46" y="711.7" font-size="10.4" stroke="#1a1a1a" stroke-width="0.2" fill="#1a1a1a">siCT</text>
<line x1="34.1" y1="719.9" x2="44.2" y2="719.9" stroke="#a9a9a9" stroke-width="1.1"/>
<rect x="37.15" y="717.9" width="4" height="4" fill="#a9a9a9"/>
<text x="46" y="723.6" font-size="10.4" stroke="#1a1a1a" stroke-width="0.2" fill="#1a1a1a">siTAZ-AS202 #1</text>
<text x="71.95" y="752.27" font-size="11" text-anchor="middle" letter-spacing="-0.3" stroke="#2a2a2a" stroke-width="0.2" fill="#2a2a2a">***</text>
<text x="98.25" y="758.57" font-size="11" text-anchor="middle" letter-spacing="-0.3" stroke="#2a2a2a" stroke-width="0.2" fill="#2a2a2a">**</text>
<text x="124.55" y="768.67" font-size="11" text-anchor="middle" letter-spacing="-0.3" stroke="#2a2a2a" stroke-width="0.2" fill="#2a2a2a">***</text>
<text x="151.05" y="771.17" font-size="11" text-anchor="middle" letter-spacing="-0.3" stroke="#2a2a2a" stroke-width="0.2" fill="#2a2a2a">***</text>
<line x1="212" y1="710" x2="212" y2="806.9" stroke="#1a1a1a" stroke-width="1.1"/>
<line x1="209.4" y1="806.4" x2="212" y2="806.4" stroke="#1a1a1a" stroke-width="1.1"/>
<text x="208.8" y="810.14" font-size="10.4" text-anchor="end" stroke="#1a1a1a" stroke-width="0.2" fill="#1a1a1a">0</text>
<line x1="209.4" y1="774.26" x2="212" y2="774.26" stroke="#1a1a1a" stroke-width="1.1"/>
<text x="208.8" y="778.01" font-size="10.4" text-anchor="end" stroke="#1a1a1a" stroke-width="0.2" fill="#1a1a1a">50</text>
<line x1="209.4" y1="742.13" x2="212" y2="742.13" stroke="#1a1a1a" stroke-width="1.1"/>
<text x="208.8" y="745.87" font-size="10.4" text-anchor="end" stroke="#1a1a1a" stroke-width="0.2" fill="#1a1a1a">100</text>
<line x1="209.4" y1="710" x2="212" y2="710" stroke="#1a1a1a" stroke-width="1.1"/>
<text x="208.8" y="713.74" font-size="10.4" text-anchor="end" stroke="#1a1a1a" stroke-width="0.2" fill="#1a1a1a">150</text>
<line x1="211.5" y1="806.4" x2="346.8" y2="806.4" stroke="#1a1a1a" stroke-width="1.1"/>
<line x1="226" y1="806.4" x2="226" y2="809.4" stroke="#1a1a1a" stroke-width="1.1"/>
<line x1="252.7" y1="806.4" x2="252.7" y2="809.4" stroke="#1a1a1a" stroke-width="1.1"/>
<line x1="279.4" y1="806.4" x2="279.4" y2="809.4" stroke="#1a1a1a" stroke-width="1.1"/>
<line x1="305.5" y1="806.4" x2="305.5" y2="809.4" stroke="#1a1a1a" stroke-width="1.1"/>
<line x1="332.2" y1="806.4" x2="332.2" y2="809.4" stroke="#1a1a1a" stroke-width="1.1"/>
<text x="226" y="818.2" font-size="10.4" text-anchor="middle" stroke="#1a1a1a" stroke-width="0.2" fill="#1a1a1a">0</text>
<text x="252.7" y="818.2" font-size="10.4" text-anchor="middle" stroke="#1a1a1a" stroke-width="0.2" fill="#1a1a1a">19</text>
<text x="279.4" y="818.2" font-size="10.4" text-anchor="middle" stroke="#1a1a1a" stroke-width="0.2" fill="#1a1a1a">26</text>
<text x="305.5" y="818.2" font-size="10.4" text-anchor="middle" stroke="#1a1a1a" stroke-width="0.2" fill="#1a1a1a">48</text>
<text x="332.2" y="818.2" font-size="10.4" text-anchor="middle" stroke="#1a1a1a" stroke-width="0.2" fill="#1a1a1a">54</text>
<text x="279.4" y="830.3" font-size="10.4" text-anchor="middle" stroke="#1a1a1a" stroke-width="0.2" fill="#1a1a1a">Time (hours)</text>
<text transform="translate(191.02,763) rotate(-90)" font-size="10.6" text-anchor="middle" stroke="#1a1a1a" stroke-width="0.2" fill="#1a1a1a">Scratch area (%)</text>
<path d="M226,742.13 L252.7,759.48 L279.4,776.19 L305.5,785.83 L332.2,793.55" fill="none" stroke="#e3191c" stroke-width="1.15" stroke-linejoin="round"/>
<rect x="223.7" y="739.83" width="4.6" height="4.6" fill="#e3191c"/>
<line x1="252.7" y1="755.63" x2="252.7" y2="763.34" stroke="#e3191c" stroke-width="1.1"/>
<line x1="250.5" y1="755.63" x2="254.9" y2="755.63" stroke="#e3191c" stroke-width="1.1"/>
<line x1="250.5" y1="763.34" x2="254.9" y2="763.34" stroke="#e3191c" stroke-width="1.1"/>
<rect x="250.4" y="757.18" width="4.6" height="4.6" fill="#e3191c"/>
<line x1="279.4" y1="769.77" x2="279.4" y2="782.62" stroke="#e3191c" stroke-width="1.1"/>
<line x1="277.2" y1="769.77" x2="281.6" y2="769.77" stroke="#e3191c" stroke-width="1.1"/>
<line x1="277.2" y1="782.62" x2="281.6" y2="782.62" stroke="#e3191c" stroke-width="1.1"/>
<rect x="277.1" y="773.89" width="4.6" height="4.6" fill="#e3191c"/>
<line x1="305.5" y1="782.62" x2="305.5" y2="789.05" stroke="#e3191c" stroke-width="1.1"/>
<line x1="303.3" y1="782.62" x2="307.7" y2="782.62" stroke="#e3191c" stroke-width="1.1"/>
<line x1="303.3" y1="789.05" x2="307.7" y2="789.05" stroke="#e3191c" stroke-width="1.1"/>
<rect x="303.2" y="783.53" width="4.6" height="4.6" fill="#e3191c"/>
<line x1="332.2" y1="787.76" x2="332.2" y2="799.33" stroke="#e3191c" stroke-width="1.1"/>
<line x1="330" y1="787.76" x2="334.4" y2="787.76" stroke="#e3191c" stroke-width="1.1"/>
<line x1="330" y1="799.33" x2="334.4" y2="799.33" stroke="#e3191c" stroke-width="1.1"/>
<rect x="329.9" y="791.25" width="4.6" height="4.6" fill="#e3191c"/>
<path d="M226,742.13 L252.7,780.69 L279.4,789.05 L305.5,801.9 L332.2,805.76" fill="none" stroke="#111" stroke-width="1.15" stroke-linejoin="round"/>
<circle cx="226" cy="742.13" r="2.3" fill="#111"/>
<line x1="252.7" y1="779.73" x2="252.7" y2="781.66" stroke="#111" stroke-width="1.1"/>
<line x1="250.5" y1="779.73" x2="254.9" y2="779.73" stroke="#111" stroke-width="1.1"/>
<line x1="250.5" y1="781.66" x2="254.9" y2="781.66" stroke="#111" stroke-width="1.1"/>
<circle cx="252.7" cy="780.69" r="2.3" fill="#111"/>
<line x1="279.4" y1="786.48" x2="279.4" y2="791.62" stroke="#111" stroke-width="1.1"/>
<line x1="277.2" y1="786.48" x2="281.6" y2="786.48" stroke="#111" stroke-width="1.1"/>
<line x1="277.2" y1="791.62" x2="281.6" y2="791.62" stroke="#111" stroke-width="1.1"/>
<circle cx="279.4" cy="789.05" r="2.3" fill="#111"/>
<line x1="305.5" y1="800.94" x2="305.5" y2="802.87" stroke="#111" stroke-width="1.1"/>
<line x1="303.3" y1="800.94" x2="307.7" y2="800.94" stroke="#111" stroke-width="1.1"/>
<line x1="303.3" y1="802.87" x2="307.7" y2="802.87" stroke="#111" stroke-width="1.1"/>
<circle cx="305.5" cy="801.9" r="2.3" fill="#111"/>
<line x1="332.2" y1="805.11" x2="332.2" y2="806.4" stroke="#111" stroke-width="1.1"/>
<line x1="330" y1="805.11" x2="334.4" y2="805.11" stroke="#111" stroke-width="1.1"/>
<line x1="330" y1="806.4" x2="334.4" y2="806.4" stroke="#111" stroke-width="1.1"/>
<circle cx="332.2" cy="805.76" r="2.3" fill="#111"/>
<line x1="216.2" y1="708.7" x2="226" y2="708.7" stroke="#111" stroke-width="1.1"/>
<circle cx="221.1" cy="708.7" r="2" fill="#111"/>
<text x="227.4" y="712.4" font-size="10.4" stroke="#1a1a1a" stroke-width="0.2" fill="#1a1a1a">siCT</text>
<line x1="216.2" y1="720.7" x2="226" y2="720.7" stroke="#e3191c" stroke-width="1.1"/>
<rect x="219.1" y="718.7" width="4" height="4" fill="#e3191c"/>
<text x="227.4" y="724.4" font-size="10.4" stroke="#1a1a1a" stroke-width="0.2" fill="#1a1a1a">siTAZ</text>
<text x="252.85" y="756.47" font-size="11" text-anchor="middle" letter-spacing="-0.3" stroke="#2a2a2a" stroke-width="0.2" fill="#2a2a2a">**</text>
<text x="305.65" y="784.07" font-size="11" text-anchor="middle" letter-spacing="-0.3" stroke="#2a2a2a" stroke-width="0.2" fill="#2a2a2a">**</text>
<text x="362.2" y="677.6" font-size="17" font-weight="bold" fill="#111">I</text>
<text x="513.5" y="691.6" font-size="15.8" stroke="#1a1a1a" stroke-width="0.2" fill="#1a1a1a">NCI-H23</text>
<line x1="392.9" y1="710" x2="392.9" y2="807.1" stroke="#1a1a1a" stroke-width="1.1"/>
<line x1="390.3" y1="806.6" x2="392.9" y2="806.6" stroke="#1a1a1a" stroke-width="1.1"/>
<text x="388.8" y="810.34" font-size="10.4" text-anchor="end" stroke="#1a1a1a" stroke-width="0.2" fill="#1a1a1a">0</text>
<line x1="390.3" y1="774.4" x2="392.9" y2="774.4" stroke="#1a1a1a" stroke-width="1.1"/>
<text x="388.8" y="778.14" font-size="10.4" text-anchor="end" stroke="#1a1a1a" stroke-width="0.2" fill="#1a1a1a">50</text>
<line x1="390.3" y1="742.2" x2="392.9" y2="742.2" stroke="#1a1a1a" stroke-width="1.1"/>
<text x="388.8" y="745.94" font-size="10.4" text-anchor="end" stroke="#1a1a1a" stroke-width="0.2" fill="#1a1a1a">100</text>
<line x1="390.3" y1="710" x2="392.9" y2="710" stroke="#1a1a1a" stroke-width="1.1"/>
<text x="388.8" y="713.74" font-size="10.4" text-anchor="end" stroke="#1a1a1a" stroke-width="0.2" fill="#1a1a1a">150</text>
<line x1="392.4" y1="806.6" x2="523.9" y2="806.6" stroke="#1a1a1a" stroke-width="1.1"/>
<line x1="409.3" y1="806.6" x2="409.3" y2="809.6" stroke="#1a1a1a" stroke-width="1.1"/>
<line x1="442.2" y1="806.6" x2="442.2" y2="809.6" stroke="#1a1a1a" stroke-width="1.1"/>
<line x1="475.1" y1="806.6" x2="475.1" y2="809.6" stroke="#1a1a1a" stroke-width="1.1"/>
<line x1="507.9" y1="806.6" x2="507.9" y2="809.6" stroke="#1a1a1a" stroke-width="1.1"/>
<text x="409.3" y="818.2" font-size="10.4" text-anchor="middle" stroke="#1a1a1a" stroke-width="0.2" fill="#1a1a1a">0</text>
<text x="442.2" y="818.2" font-size="10.4" text-anchor="middle" stroke="#1a1a1a" stroke-width="0.2" fill="#1a1a1a">19</text>
<text x="475.1" y="818.2" font-size="10.4" text-anchor="middle" stroke="#1a1a1a" stroke-width="0.2" fill="#1a1a1a">26</text>
<text x="507.9" y="818.2" font-size="10.4" text-anchor="middle" stroke="#1a1a1a" stroke-width="0.2" fill="#1a1a1a">48</text>
<text x="461.6" y="830.6" font-size="10.4" text-anchor="middle" stroke="#1a1a1a" stroke-width="0.2" fill="#1a1a1a">Time (hours)</text>
<text transform="translate(371.92,762.7) rotate(-90)" font-size="10.6" text-anchor="middle" stroke="#1a1a1a" stroke-width="0.2" fill="#1a1a1a">Scratch area (%)</text>
<path d="M409.3,742.2 L442.2,770.54 L475.1,777.62 L507.9,797.58" fill="none" stroke="#a9a9a9" stroke-width="1.15" stroke-linejoin="round"/>
<rect x="407" y="739.9" width="4.6" height="4.6" fill="#a9a9a9"/>
<line x1="442.2" y1="769.25" x2="442.2" y2="771.82" stroke="#a9a9a9" stroke-width="1.1"/>
<line x1="440" y1="769.25" x2="444.4" y2="769.25" stroke="#a9a9a9" stroke-width="1.1"/>
<line x1="440" y1="771.82" x2="444.4" y2="771.82" stroke="#a9a9a9" stroke-width="1.1"/>
<rect x="439.9" y="768.24" width="4.6" height="4.6" fill="#a9a9a9"/>
<line x1="475.1" y1="776.33" x2="475.1" y2="778.91" stroke="#a9a9a9" stroke-width="1.1"/>
<line x1="472.9" y1="776.33" x2="477.3" y2="776.33" stroke="#a9a9a9" stroke-width="1.1"/>
<line x1="472.9" y1="778.91" x2="477.3" y2="778.91" stroke="#a9a9a9" stroke-width="1.1"/>
<rect x="472.8" y="775.32" width="4.6" height="4.6" fill="#a9a9a9"/>
<line x1="507.9" y1="796.3" x2="507.9" y2="798.87" stroke="#a9a9a9" stroke-width="1.1"/>
<line x1="505.7" y1="796.3" x2="510.1" y2="796.3" stroke="#a9a9a9" stroke-width="1.1"/>
<line x1="505.7" y1="798.87" x2="510.1" y2="798.87" stroke="#a9a9a9" stroke-width="1.1"/>
<rect x="505.6" y="795.28" width="4.6" height="4.6" fill="#a9a9a9"/>
<path d="M409.3,742.2 L442.2,792.43 L475.1,801.45 L507.9,806.6" fill="none" stroke="#111" stroke-width="1.15" stroke-linejoin="round"/>
<circle cx="409.3" cy="742.2" r="2.3" fill="#111"/>
<line x1="442.2" y1="788.57" x2="442.2" y2="796.3" stroke="#111" stroke-width="1.1"/>
<line x1="440" y1="788.57" x2="444.4" y2="788.57" stroke="#111" stroke-width="1.1"/>
<line x1="440" y1="796.3" x2="444.4" y2="796.3" stroke="#111" stroke-width="1.1"/>
<circle cx="442.2" cy="792.43" r="2.3" fill="#111"/>
<line x1="475.1" y1="799.52" x2="475.1" y2="803.38" stroke="#111" stroke-width="1.1"/>
<line x1="472.9" y1="799.52" x2="477.3" y2="799.52" stroke="#111" stroke-width="1.1"/>
<line x1="472.9" y1="803.38" x2="477.3" y2="803.38" stroke="#111" stroke-width="1.1"/>
<circle cx="475.1" cy="801.45" r="2.3" fill="#111"/>
<line x1="507.9" y1="806.28" x2="507.9" y2="806.92" stroke="#111" stroke-width="1.1"/>
<line x1="505.7" y1="806.28" x2="510.1" y2="806.28" stroke="#111" stroke-width="1.1"/>
<line x1="505.7" y1="806.92" x2="510.1" y2="806.92" stroke="#111" stroke-width="1.1"/>
<circle cx="507.9" cy="806.6" r="2.3" fill="#111"/>
<line x1="398.5" y1="708" x2="408.1" y2="708" stroke="#111" stroke-width="1.1"/>
<circle cx="403.3" cy="708" r="2" fill="#111"/>
<text x="410.1" y="711.7" font-size="10.4" stroke="#1a1a1a" stroke-width="0.2" fill="#1a1a1a">siCT</text>
<line x1="398.5" y1="720.2" x2="408.1" y2="720.2" stroke="#a9a9a9" stroke-width="1.1"/>
<rect x="401.3" y="718.2" width="4" height="4" fill="#a9a9a9"/>
<text x="410.1" y="723.9" font-size="10.4" stroke="#1a1a1a" stroke-width="0.2" fill="#1a1a1a">siTAZ-AS202 #1</text>
<text x="442.35" y="769.37" font-size="11" text-anchor="middle" letter-spacing="-0.3" stroke="#2a2a2a" stroke-width="0.2" fill="#2a2a2a">**</text>
<text x="475.25" y="776.77" font-size="11" text-anchor="middle" letter-spacing="-0.3" stroke="#2a2a2a" stroke-width="0.2" fill="#2a2a2a">***</text>
<text x="508.05" y="796.97" font-size="11" text-anchor="middle" letter-spacing="-0.3" stroke="#2a2a2a" stroke-width="0.2" fill="#2a2a2a">***</text>
<line x1="576" y1="709" x2="576" y2="806.7" stroke="#1a1a1a" stroke-width="1.1"/>
<line x1="573.4" y1="806.2" x2="576" y2="806.2" stroke="#1a1a1a" stroke-width="1.1"/>
<text x="572.2" y="809.94" font-size="10.4" text-anchor="end" stroke="#1a1a1a" stroke-width="0.2" fill="#1a1a1a">0</text>
<line x1="573.4" y1="773.8" x2="576" y2="773.8" stroke="#1a1a1a" stroke-width="1.1"/>
<text x="572.2" y="777.54" font-size="10.4" text-anchor="end" stroke="#1a1a1a" stroke-width="0.2" fill="#1a1a1a">50</text>
<line x1="573.4" y1="741.4" x2="576" y2="741.4" stroke="#1a1a1a" stroke-width="1.1"/>
<text x="572.2" y="745.14" font-size="10.4" text-anchor="end" stroke="#1a1a1a" stroke-width="0.2" fill="#1a1a1a">100</text>
<line x1="573.4" y1="709" x2="576" y2="709" stroke="#1a1a1a" stroke-width="1.1"/>
<text x="572.2" y="712.74" font-size="10.4" text-anchor="end" stroke="#1a1a1a" stroke-width="0.2" fill="#1a1a1a">150</text>
<line x1="575.5" y1="806.2" x2="708.2" y2="806.2" stroke="#1a1a1a" stroke-width="1.1"/>
<line x1="592.8" y1="806.2" x2="592.8" y2="809.2" stroke="#1a1a1a" stroke-width="1.1"/>
<line x1="626.5" y1="806.2" x2="626.5" y2="809.2" stroke="#1a1a1a" stroke-width="1.1"/>
<line x1="658.9" y1="806.2" x2="658.9" y2="809.2" stroke="#1a1a1a" stroke-width="1.1"/>
<line x1="691.8" y1="806.2" x2="691.8" y2="809.2" stroke="#1a1a1a" stroke-width="1.1"/>
<text x="592.8" y="818" font-size="10.4" text-anchor="middle" stroke="#1a1a1a" stroke-width="0.2" fill="#1a1a1a">0</text>
<text x="626.5" y="818" font-size="10.4" text-anchor="middle" stroke="#1a1a1a" stroke-width="0.2" fill="#1a1a1a">19</text>
<text x="658.9" y="818" font-size="10.4" text-anchor="middle" stroke="#1a1a1a" stroke-width="0.2" fill="#1a1a1a">26</text>
<text x="691.8" y="818" font-size="10.4" text-anchor="middle" stroke="#1a1a1a" stroke-width="0.2" fill="#1a1a1a">48</text>
<text x="645" y="831" font-size="10.4" text-anchor="middle" stroke="#1a1a1a" stroke-width="0.2" fill="#1a1a1a">Time (hours)</text>
<text transform="translate(551.92,762.7) rotate(-90)" font-size="10.6" text-anchor="middle" stroke="#1a1a1a" stroke-width="0.2" fill="#1a1a1a">Scratch area (%)</text>
<path d="M592.8,741.4 L626.5,769.91 L658.9,782.22 L691.8,788.7" fill="none" stroke="#e3191c" stroke-width="1.15" stroke-linejoin="round"/>
<rect x="590.5" y="739.1" width="4.6" height="4.6" fill="#e3191c"/>
<line x1="626.5" y1="766.02" x2="626.5" y2="773.8" stroke="#e3191c" stroke-width="1.1"/>
<line x1="624.3" y1="766.02" x2="628.7" y2="766.02" stroke="#e3191c" stroke-width="1.1"/>
<line x1="624.3" y1="773.8" x2="628.7" y2="773.8" stroke="#e3191c" stroke-width="1.1"/>
<rect x="624.2" y="767.61" width="4.6" height="4.6" fill="#e3191c"/>
<line x1="658.9" y1="777.69" x2="658.9" y2="786.76" stroke="#e3191c" stroke-width="1.1"/>
<line x1="656.7" y1="777.69" x2="661.1" y2="777.69" stroke="#e3191c" stroke-width="1.1"/>
<line x1="656.7" y1="786.76" x2="661.1" y2="786.76" stroke="#e3191c" stroke-width="1.1"/>
<rect x="656.6" y="779.92" width="4.6" height="4.6" fill="#e3191c"/>
<line x1="691.8" y1="784.17" x2="691.8" y2="793.24" stroke="#e3191c" stroke-width="1.1"/>
<line x1="689.6" y1="784.17" x2="694" y2="784.17" stroke="#e3191c" stroke-width="1.1"/>
<line x1="689.6" y1="793.24" x2="694" y2="793.24" stroke="#e3191c" stroke-width="1.1"/>
<rect x="689.5" y="786.4" width="4.6" height="4.6" fill="#e3191c"/>
<path d="M592.8,741.4 L626.5,791.94 L658.9,801.02 L691.8,806.2" fill="none" stroke="#111" stroke-width="1.15" stroke-linejoin="round"/>
<circle cx="592.8" cy="741.4" r="2.3" fill="#111"/>
<line x1="626.5" y1="788.06" x2="626.5" y2="795.83" stroke="#111" stroke-width="1.1"/>
<line x1="624.3" y1="788.06" x2="628.7" y2="788.06" stroke="#111" stroke-width="1.1"/>
<line x1="624.3" y1="795.83" x2="628.7" y2="795.83" stroke="#111" stroke-width="1.1"/>
<circle cx="626.5" cy="791.94" r="2.3" fill="#111"/>
<line x1="658.9" y1="799.07" x2="658.9" y2="802.96" stroke="#111" stroke-width="1.1"/>
<line x1="656.7" y1="799.07" x2="661.1" y2="799.07" stroke="#111" stroke-width="1.1"/>
<line x1="656.7" y1="802.96" x2="661.1" y2="802.96" stroke="#111" stroke-width="1.1"/>
<circle cx="658.9" cy="801.02" r="2.3" fill="#111"/>
<line x1="691.8" y1="805.88" x2="691.8" y2="806.52" stroke="#111" stroke-width="1.1"/>
<line x1="689.6" y1="805.88" x2="694" y2="805.88" stroke="#111" stroke-width="1.1"/>
<line x1="689.6" y1="806.52" x2="694" y2="806.52" stroke="#111" stroke-width="1.1"/>
<circle cx="691.8" cy="806.2" r="2.3" fill="#111"/>
<line x1="581.5" y1="707.8" x2="590.7" y2="707.8" stroke="#111" stroke-width="1.1"/>
<circle cx="586.1" cy="707.8" r="2" fill="#111"/>
<text x="592.3" y="711.5" font-size="10.4" stroke="#1a1a1a" stroke-width="0.2" fill="#1a1a1a">siCT</text>
<line x1="581.5" y1="720.5" x2="590.7" y2="720.5" stroke="#e3191c" stroke-width="1.1"/>
<rect x="584.1" y="718.5" width="4" height="4" fill="#e3191c"/>
<text x="592.3" y="724.2" font-size="10.4" stroke="#1a1a1a" stroke-width="0.2" fill="#1a1a1a">siTAZ</text>
<text x="626.65" y="766.67" font-size="11" text-anchor="middle" letter-spacing="-0.3" stroke="#2a2a2a" stroke-width="0.2" fill="#2a2a2a">*</text>
<text x="659.05" y="777.97" font-size="11" text-anchor="middle" letter-spacing="-0.3" stroke="#2a2a2a" stroke-width="0.2" fill="#2a2a2a">*</text>
<text x="691.95" y="784.67" font-size="11" text-anchor="middle" letter-spacing="-0.3" stroke="#2a2a2a" stroke-width="0.2" fill="#2a2a2a">*</text>
<text x="2" y="856.4" font-size="17" font-weight="bold" fill="#111">J</text>
<text x="165.4" y="870.7" font-size="15.8" stroke="#1a1a1a" stroke-width="0.2" fill="#1a1a1a">A549</text>
<line x1="44.2" y1="891.9" x2="44.2" y2="984.7" stroke="#1a1a1a" stroke-width="1.1"/>
<line x1="41.9" y1="984.2" x2="44.2" y2="984.2" stroke="#1a1a1a" stroke-width="1.1"/>
<text x="37.4" y="987.94" font-size="10.4" text-anchor="end" stroke="#1a1a1a" stroke-width="0.2" fill="#1a1a1a">0.0</text>
<line x1="41.9" y1="953.4" x2="44.2" y2="953.4" stroke="#1a1a1a" stroke-width="1.1"/>
<text x="37.4" y="957.14" font-size="10.4" text-anchor="end" stroke="#1a1a1a" stroke-width="0.2" fill="#1a1a1a">0.1</text>
<line x1="41.9" y1="922.6" x2="44.2" y2="922.6" stroke="#1a1a1a" stroke-width="1.1"/>
<text x="37.4" y="926.34" font-size="10.4" text-anchor="end" stroke="#1a1a1a" stroke-width="0.2" fill="#1a1a1a">0.2</text>
<line x1="41.9" y1="891.8" x2="44.2" y2="891.8" stroke="#1a1a1a" stroke-width="1.1"/>
<text x="37.4" y="895.54" font-size="10.4" text-anchor="end" stroke="#1a1a1a" stroke-width="0.2" fill="#1a1a1a">0.3</text>
<line x1="43.7" y1="984.2" x2="139.8" y2="984.2" stroke="#1a1a1a" stroke-width="1.1"/>
<line x1="68.25" y1="984.2" x2="68.25" y2="986.7" stroke="#1a1a1a" stroke-width="1.1"/>
<line x1="116" y1="984.2" x2="116" y2="986.7" stroke="#1a1a1a" stroke-width="1.1"/>
<rect x="52.3" y="905.66" width="31.9" height="78.54" fill="#100c0a" stroke="#111" stroke-width="1"/>
<line x1="68.25" y1="898.88" x2="68.25" y2="905.66" stroke="#111" stroke-width="1.1"/>
<line x1="60.27" y1="898.88" x2="76.22" y2="898.88" stroke="#111" stroke-width="1.1"/>
<rect x="99.8" y="969.42" width="32.4" height="14.78" fill="#a8a8a8" stroke="#111" stroke-width="1"/>
<line x1="116" y1="967.57" x2="116" y2="971.26" stroke="#111" stroke-width="1.1"/>
<line x1="107.9" y1="967.57" x2="124.1" y2="967.57" stroke="#111" stroke-width="1.1"/>
<line x1="107.9" y1="971.26" x2="124.1" y2="971.26" stroke="#111" stroke-width="1.1"/>
<line x1="65.2" y1="887.6" x2="128.9" y2="887.6" stroke="#a0a0a0" stroke-width="1.4"/>
<text x="97.45" y="887.57" font-size="11" text-anchor="middle" letter-spacing="-0.3" stroke="#2a2a2a" stroke-width="0.2" fill="#2a2a2a">***</text>
<text x="16.4" y="998.2" font-size="10.4" stroke="#1a1a1a" stroke-width="0.2" fill="#1a1a1a">siRNA</text>
<text x="67.6" y="998.2" font-size="10.4" text-anchor="middle" stroke="#1a1a1a" stroke-width="0.2" fill="#1a1a1a">CT</text>
<text x="120.7" y="998.2" font-size="10.4" text-anchor="middle" stroke="#1a1a1a" stroke-width="0.2" fill="#1a1a1a">TAZ-AS202 #1</text>
<text transform="translate(16.42,937) rotate(-90)" font-size="10.6" text-anchor="middle" stroke="#1a1a1a" stroke-width="0.2" fill="#1a1a1a">Ratio matrigel/control</text>
<line x1="212.8" y1="893" x2="212.8" y2="985.9" stroke="#1a1a1a" stroke-width="1.1"/>
<line x1="210.5" y1="985.4" x2="212.8" y2="985.4" stroke="#1a1a1a" stroke-width="1.1"/>
<text x="205.4" y="989.14" font-size="10.4" text-anchor="end" stroke="#1a1a1a" stroke-width="0.2" fill="#1a1a1a">0.0</text>
<line x1="210.5" y1="954.6" x2="212.8" y2="954.6" stroke="#1a1a1a" stroke-width="1.1"/>
<text x="205.4" y="958.34" font-size="10.4" text-anchor="end" stroke="#1a1a1a" stroke-width="0.2" fill="#1a1a1a">0.1</text>
<line x1="210.5" y1="923.8" x2="212.8" y2="923.8" stroke="#1a1a1a" stroke-width="1.1"/>
<text x="205.4" y="927.54" font-size="10.4" text-anchor="end" stroke="#1a1a1a" stroke-width="0.2" fill="#1a1a1a">0.2</text>
<line x1="210.5" y1="893" x2="212.8" y2="893" stroke="#1a1a1a" stroke-width="1.1"/>
<text x="205.4" y="896.74" font-size="10.4" text-anchor="end" stroke="#1a1a1a" stroke-width="0.2" fill="#1a1a1a">0.3</text>
<line x1="212.3" y1="985.4" x2="313.1" y2="985.4" stroke="#1a1a1a" stroke-width="1.1"/>
<line x1="238.35" y1="985.4" x2="238.35" y2="987.9" stroke="#1a1a1a" stroke-width="1.1"/>
<line x1="288.5" y1="985.4" x2="288.5" y2="987.9" stroke="#1a1a1a" stroke-width="1.1"/>
<rect x="221.2" y="906.86" width="34.3" height="78.54" fill="#100c0a" stroke="#111" stroke-width="1"/>
<line x1="238.35" y1="900.08" x2="238.35" y2="906.86" stroke="#111" stroke-width="1.1"/>
<line x1="229.78" y1="900.08" x2="246.92" y2="900.08" stroke="#111" stroke-width="1.1"/>
<rect x="271.8" y="954.6" width="33.4" height="30.8" fill="#e3191c" stroke="#111" stroke-width="1"/>
<line x1="288.5" y1="946.59" x2="288.5" y2="962.61" stroke="#111" stroke-width="1.1"/>
<line x1="280.15" y1="946.59" x2="296.85" y2="946.59" stroke="#111" stroke-width="1.1"/>
<line x1="280.15" y1="962.61" x2="296.85" y2="962.61" stroke="#111" stroke-width="1.1"/>
<line x1="233.6" y1="886.5" x2="297.1" y2="886.5" stroke="#222" stroke-width="0.8"/>
<text x="266.35" y="886.47" font-size="11" text-anchor="middle" letter-spacing="-0.3" stroke="#2a2a2a" stroke-width="0.2" fill="#2a2a2a">**</text>
<text x="238.3" y="998.9" font-size="10.4" text-anchor="middle" stroke="#1a1a1a" stroke-width="0.2" fill="#1a1a1a">CT</text>
<text x="288.5" y="998.9" font-size="10.4" text-anchor="middle" stroke="#1a1a1a" stroke-width="0.2" fill="#1a1a1a">TAZ</text>
<text transform="translate(184.82,937) rotate(-90)" font-size="10.6" text-anchor="middle" stroke="#1a1a1a" stroke-width="0.2" fill="#1a1a1a">Ratio matrigel/control</text>
<text x="362.2" y="857.1" font-size="17" font-weight="bold" fill="#111">K</text>
<text x="520.4" y="871" font-size="15.8" stroke="#1a1a1a" stroke-width="0.2" fill="#1a1a1a">NCI-H23</text>
<line x1="410.3" y1="892.2" x2="410.3" y2="984.4" stroke="#1a1a1a" stroke-width="1.1"/>
<line x1="408" y1="983.9" x2="410.3" y2="983.9" stroke="#1a1a1a" stroke-width="1.1"/>
<text x="403.2" y="987.64" font-size="10.4" text-anchor="end" stroke="#1a1a1a" stroke-width="0.2" fill="#1a1a1a">0.0</text>
<line x1="408" y1="965.56" x2="410.3" y2="965.56" stroke="#1a1a1a" stroke-width="1.1"/>
<text x="403.2" y="969.3" font-size="10.4" text-anchor="end" stroke="#1a1a1a" stroke-width="0.2" fill="#1a1a1a">0.05</text>
<line x1="408" y1="947.22" x2="410.3" y2="947.22" stroke="#1a1a1a" stroke-width="1.1"/>
<text x="403.2" y="950.96" font-size="10.4" text-anchor="end" stroke="#1a1a1a" stroke-width="0.2" fill="#1a1a1a">0.10</text>
<line x1="408" y1="928.88" x2="410.3" y2="928.88" stroke="#1a1a1a" stroke-width="1.1"/>
<text x="403.2" y="932.62" font-size="10.4" text-anchor="end" stroke="#1a1a1a" stroke-width="0.2" fill="#1a1a1a">0.15</text>
<line x1="408" y1="910.54" x2="410.3" y2="910.54" stroke="#1a1a1a" stroke-width="1.1"/>
<text x="403.2" y="914.28" font-size="10.4" text-anchor="end" stroke="#1a1a1a" stroke-width="0.2" fill="#1a1a1a">0.20</text>
<line x1="408" y1="892.2" x2="410.3" y2="892.2" stroke="#1a1a1a" stroke-width="1.1"/>
<text x="403.2" y="895.94" font-size="10.4" text-anchor="end" stroke="#1a1a1a" stroke-width="0.2" fill="#1a1a1a">0.25</text>
<line x1="409.8" y1="983.9" x2="506.7" y2="983.9" stroke="#1a1a1a" stroke-width="1.1"/>
<line x1="434.65" y1="983.9" x2="434.65" y2="986.4" stroke="#1a1a1a" stroke-width="1.1"/>
<line x1="482.65" y1="983.9" x2="482.65" y2="986.4" stroke="#1a1a1a" stroke-width="1.1"/>
<rect x="418.2" y="916.78" width="32.9" height="67.12" fill="#100c0a" stroke="#111" stroke-width="1"/>
<line x1="434.65" y1="912.37" x2="434.65" y2="916.78" stroke="#111" stroke-width="1.1"/>
<line x1="426.42" y1="912.37" x2="442.88" y2="912.37" stroke="#111" stroke-width="1.1"/>
<rect x="466.2" y="958.96" width="32.9" height="24.94" fill="#a8a8a8" stroke="#111" stroke-width="1"/>
<line x1="482.65" y1="954.56" x2="482.65" y2="963.36" stroke="#111" stroke-width="1.1"/>
<line x1="474.42" y1="954.56" x2="490.88" y2="954.56" stroke="#111" stroke-width="1.1"/>
<line x1="474.42" y1="963.36" x2="490.88" y2="963.36" stroke="#111" stroke-width="1.1"/>
<line x1="428.8" y1="898.8" x2="492.3" y2="898.8" stroke="#222" stroke-width="0.8"/>
<text x="461.35" y="898.77" font-size="11" text-anchor="middle" letter-spacing="-0.3" stroke="#2a2a2a" stroke-width="0.2" fill="#2a2a2a">***</text>
<text x="376.5" y="998.6" font-size="10.4" stroke="#1a1a1a" stroke-width="0.2" fill="#1a1a1a">siRNA</text>
<text x="435.2" y="998.6" font-size="10.4" text-anchor="middle" stroke="#1a1a1a" stroke-width="0.2" fill="#1a1a1a">CT</text>
<text x="487.1" y="998.6" font-size="10.4" text-anchor="middle" stroke="#1a1a1a" stroke-width="0.2" fill="#1a1a1a">TAZ-AS202 #1</text>
<text transform="translate(377.22,936.1) rotate(-90)" font-size="10.6" text-anchor="middle" stroke="#1a1a1a" stroke-width="0.2" fill="#1a1a1a">Ratio matrigel/control</text>
<line x1="595.6" y1="892.6" x2="595.6" y2="984.9" stroke="#1a1a1a" stroke-width="1.1"/>
<line x1="593.3" y1="984.4" x2="595.6" y2="984.4" stroke="#1a1a1a" stroke-width="1.1"/>
<text x="590.1" y="988.14" font-size="10.4" text-anchor="end" stroke="#1a1a1a" stroke-width="0.2" fill="#1a1a1a">0.0</text>
<line x1="593.3" y1="966.04" x2="595.6" y2="966.04" stroke="#1a1a1a" stroke-width="1.1"/>
<text x="590.1" y="969.78" font-size="10.4" text-anchor="end" stroke="#1a1a1a" stroke-width="0.2" fill="#1a1a1a">0.05</text>
<line x1="593.3" y1="947.68" x2="595.6" y2="947.68" stroke="#1a1a1a" stroke-width="1.1"/>
<text x="590.1" y="951.42" font-size="10.4" text-anchor="end" stroke="#1a1a1a" stroke-width="0.2" fill="#1a1a1a">0.10</text>
<line x1="593.3" y1="929.32" x2="595.6" y2="929.32" stroke="#1a1a1a" stroke-width="1.1"/>
<text x="590.1" y="933.06" font-size="10.4" text-anchor="end" stroke="#1a1a1a" stroke-width="0.2" fill="#1a1a1a">0.15</text>
<line x1="593.3" y1="910.96" x2="595.6" y2="910.96" stroke="#1a1a1a" stroke-width="1.1"/>
<text x="590.1" y="914.7" font-size="10.4" text-anchor="end" stroke="#1a1a1a" stroke-width="0.2" fill="#1a1a1a">0.20</text>
<line x1="593.3" y1="892.6" x2="595.6" y2="892.6" stroke="#1a1a1a" stroke-width="1.1"/>
<text x="590.1" y="896.34" font-size="10.4" text-anchor="end" stroke="#1a1a1a" stroke-width="0.2" fill="#1a1a1a">0.25</text>
<line x1="595.1" y1="984.4" x2="694" y2="984.4" stroke="#1a1a1a" stroke-width="1.1"/>
<line x1="620.75" y1="984.4" x2="620.75" y2="986.9" stroke="#1a1a1a" stroke-width="1.1"/>
<line x1="670.3" y1="984.4" x2="670.3" y2="986.9" stroke="#1a1a1a" stroke-width="1.1"/>
<rect x="603.9" y="916.47" width="33.7" height="67.93" fill="#100c0a" stroke="#111" stroke-width="1"/>
<line x1="620.75" y1="908.39" x2="620.75" y2="916.47" stroke="#111" stroke-width="1.1"/>
<line x1="612.33" y1="908.39" x2="629.17" y2="908.39" stroke="#111" stroke-width="1.1"/>
<rect x="653.9" y="960.53" width="32.8" height="23.87" fill="#e3191c" stroke="#111" stroke-width="1"/>
<line x1="670.3" y1="947.68" x2="670.3" y2="973.38" stroke="#111" stroke-width="1.1"/>
<line x1="662.1" y1="947.68" x2="678.5" y2="947.68" stroke="#111" stroke-width="1.1"/>
<line x1="662.1" y1="973.38" x2="678.5" y2="973.38" stroke="#111" stroke-width="1.1"/>
<line x1="613.7" y1="895" x2="677.7" y2="895" stroke="#222" stroke-width="0.8"/>
<text x="646.45" y="894.97" font-size="11" text-anchor="middle" letter-spacing="-0.3" stroke="#2a2a2a" stroke-width="0.2" fill="#2a2a2a">**</text>
<text x="620.6" y="998.9" font-size="10.4" text-anchor="middle" stroke="#1a1a1a" stroke-width="0.2" fill="#1a1a1a">CT</text>
<text x="670.3" y="998.9" font-size="10.4" text-anchor="middle" stroke="#1a1a1a" stroke-width="0.2" fill="#1a1a1a">TAZ</text>
<text transform="translate(562.82,936.7) rotate(-90)" font-size="10.6" text-anchor="middle" stroke="#1a1a1a" stroke-width="0.2" fill="#1a1a1a">Ratio matrigel/control</text>
</g>
</svg>
</body></html>
